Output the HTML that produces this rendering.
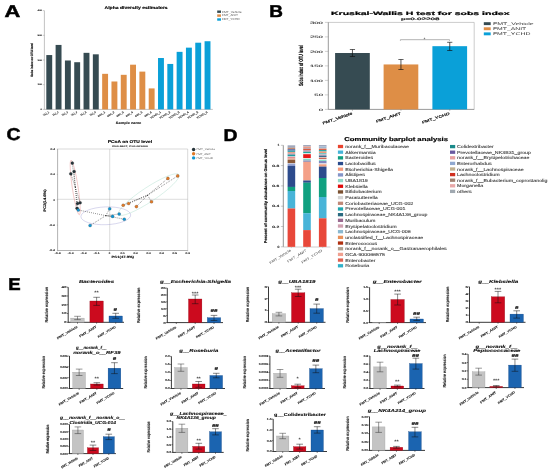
<!DOCTYPE html>
<html><head><meta charset="utf-8"><style>
html,body{margin:0;padding:0;background:#fff;}
svg{display:block;will-change:transform;}
text{font-family:"Liberation Sans", sans-serif;text-rendering:geometricPrecision;}
</style></head><body>
<svg width="550" height="471" viewBox="0 0 550 471" font-family='"Liberation Sans", sans-serif'>
<rect width="550" height="471" fill="#fff"/>
<text x="4.55" y="17.15" font-size="17.1" font-weight="bold" stroke="#000" stroke-width="0.500" textLength="15.80" lengthAdjust="spacingAndGlyphs">A</text>
<text x="269.25" y="17.05" font-size="17.1" font-weight="bold" stroke="#000" stroke-width="0.500" textLength="13.70" lengthAdjust="spacingAndGlyphs">B</text>
<text x="6.55" y="140.35" font-size="17.1" font-weight="bold" stroke="#000" stroke-width="0.500" textLength="14.00" lengthAdjust="spacingAndGlyphs">C</text>
<text x="223.55" y="140.95" font-size="17.1" font-weight="bold" stroke="#000" stroke-width="0.500" textLength="14.00" lengthAdjust="spacingAndGlyphs">D</text>
<text x="8.25" y="290.05" font-size="17.1" font-weight="bold" stroke="#000" stroke-width="0.500" textLength="12.40" lengthAdjust="spacingAndGlyphs">E</text>
<text x="104.50" y="8.50" font-size="4.1" font-weight="bold" stroke="#000" stroke-width="0.123" textLength="63.20" lengthAdjust="spacingAndGlyphs">Alpha diversity estimators</text>
<line x1="44.40" y1="10.70" x2="44.40" y2="109.40" stroke="#777" stroke-width="0.45"/>
<line x1="44.40" y1="109.40" x2="212.80" y2="109.40" stroke="#777" stroke-width="0.45"/>
<line x1="42.80" y1="109.40" x2="44.40" y2="109.40" stroke="#777" stroke-width="0.35"/>
<text x="42.20" y="110.15" font-size="2.1" text-anchor="end" fill="#333" stroke="#333" stroke-width="0.126" textLength="1.60" lengthAdjust="spacingAndGlyphs">0</text>
<line x1="42.80" y1="84.70" x2="44.40" y2="84.70" stroke="#777" stroke-width="0.35"/>
<text x="42.20" y="85.45" font-size="2.1" text-anchor="end" fill="#333" stroke="#333" stroke-width="0.126" textLength="4.80" lengthAdjust="spacingAndGlyphs">100</text>
<line x1="42.80" y1="60.00" x2="44.40" y2="60.00" stroke="#777" stroke-width="0.35"/>
<text x="42.20" y="60.75" font-size="2.1" text-anchor="end" fill="#333" stroke="#333" stroke-width="0.126" textLength="4.80" lengthAdjust="spacingAndGlyphs">200</text>
<line x1="42.80" y1="35.30" x2="44.40" y2="35.30" stroke="#777" stroke-width="0.35"/>
<text x="42.20" y="36.05" font-size="2.1" text-anchor="end" fill="#333" stroke="#333" stroke-width="0.126" textLength="4.80" lengthAdjust="spacingAndGlyphs">300</text>
<line x1="42.80" y1="10.60" x2="44.40" y2="10.60" stroke="#777" stroke-width="0.35"/>
<text x="42.20" y="11.35" font-size="2.1" text-anchor="end" fill="#333" stroke="#333" stroke-width="0.126" textLength="4.80" lengthAdjust="spacingAndGlyphs">400</text>
<rect x="46.30" y="55.06" width="5.90" height="54.34" fill="#364b52"/>
<text x="49.45" y="112.60" font-size="2.6" text-anchor="end" fill="#444" stroke="#444" stroke-width="0.156" textLength="6.60" lengthAdjust="spacingAndGlyphs" transform="rotate(-32 49.45 112.60)">VL1_1</text>
<rect x="55.61" y="44.93" width="5.90" height="64.47" fill="#364b52"/>
<text x="58.76" y="112.60" font-size="2.6" text-anchor="end" fill="#444" stroke="#444" stroke-width="0.156" textLength="6.60" lengthAdjust="spacingAndGlyphs" transform="rotate(-32 58.76 112.60)">VL1_2</text>
<rect x="64.92" y="60.49" width="5.90" height="48.91" fill="#364b52"/>
<text x="68.07" y="112.60" font-size="2.6" text-anchor="end" fill="#444" stroke="#444" stroke-width="0.156" textLength="6.60" lengthAdjust="spacingAndGlyphs" transform="rotate(-32 68.07 112.60)">VL1_3</text>
<rect x="74.23" y="62.22" width="5.90" height="47.18" fill="#364b52"/>
<text x="77.38" y="112.60" font-size="2.6" text-anchor="end" fill="#444" stroke="#444" stroke-width="0.156" textLength="6.60" lengthAdjust="spacingAndGlyphs" transform="rotate(-32 77.38 112.60)">VL1_4</text>
<rect x="83.54" y="52.84" width="5.90" height="56.56" fill="#364b52"/>
<text x="86.69" y="112.60" font-size="2.6" text-anchor="end" fill="#444" stroke="#444" stroke-width="0.156" textLength="6.60" lengthAdjust="spacingAndGlyphs" transform="rotate(-32 86.69 112.60)">VL1_5</text>
<rect x="92.85" y="54.32" width="5.90" height="55.08" fill="#364b52"/>
<text x="96.00" y="112.60" font-size="2.6" text-anchor="end" fill="#444" stroke="#444" stroke-width="0.156" textLength="6.60" lengthAdjust="spacingAndGlyphs" transform="rotate(-32 96.00 112.60)">VL1_6</text>
<rect x="102.16" y="73.83" width="5.90" height="35.57" fill="#de8e46"/>
<text x="105.31" y="112.60" font-size="2.6" text-anchor="end" fill="#444" stroke="#444" stroke-width="0.156" textLength="8.20" lengthAdjust="spacingAndGlyphs" transform="rotate(-32 105.31 112.60)">aan_1</text>
<rect x="111.47" y="81.49" width="5.90" height="27.91" fill="#de8e46"/>
<text x="114.62" y="112.60" font-size="2.6" text-anchor="end" fill="#444" stroke="#444" stroke-width="0.156" textLength="8.20" lengthAdjust="spacingAndGlyphs" transform="rotate(-32 114.62 112.60)">aan_2</text>
<rect x="120.78" y="74.82" width="5.90" height="34.58" fill="#de8e46"/>
<text x="123.93" y="112.60" font-size="2.6" text-anchor="end" fill="#444" stroke="#444" stroke-width="0.156" textLength="8.20" lengthAdjust="spacingAndGlyphs" transform="rotate(-32 123.93 112.60)">aan_3</text>
<rect x="130.09" y="64.69" width="5.90" height="44.71" fill="#de8e46"/>
<text x="133.24" y="112.60" font-size="2.6" text-anchor="end" fill="#444" stroke="#444" stroke-width="0.156" textLength="8.20" lengthAdjust="spacingAndGlyphs" transform="rotate(-32 133.24 112.60)">aan_4</text>
<rect x="139.40" y="71.61" width="5.90" height="37.79" fill="#de8e46"/>
<text x="142.55" y="112.60" font-size="2.6" text-anchor="end" fill="#444" stroke="#444" stroke-width="0.156" textLength="8.20" lengthAdjust="spacingAndGlyphs" transform="rotate(-32 142.55 112.60)">aan_5</text>
<rect x="148.71" y="88.41" width="5.90" height="21.00" fill="#de8e46"/>
<text x="151.86" y="112.60" font-size="2.6" text-anchor="end" fill="#444" stroke="#444" stroke-width="0.156" textLength="8.20" lengthAdjust="spacingAndGlyphs" transform="rotate(-32 151.86 112.60)">aan_6</text>
<rect x="158.02" y="58.02" width="5.90" height="51.38" fill="#0aa0d8"/>
<text x="161.17" y="112.60" font-size="2.6" text-anchor="end" fill="#444" stroke="#444" stroke-width="0.156" textLength="12.20" lengthAdjust="spacingAndGlyphs" transform="rotate(-32 161.17 112.60)">YCHD_1</text>
<rect x="167.33" y="63.95" width="5.90" height="45.45" fill="#0aa0d8"/>
<text x="170.48" y="112.60" font-size="2.6" text-anchor="end" fill="#444" stroke="#444" stroke-width="0.156" textLength="12.20" lengthAdjust="spacingAndGlyphs" transform="rotate(-32 170.48 112.60)">YCHD_2</text>
<rect x="176.64" y="51.85" width="5.90" height="57.55" fill="#0aa0d8"/>
<text x="179.79" y="112.60" font-size="2.6" text-anchor="end" fill="#444" stroke="#444" stroke-width="0.156" textLength="12.20" lengthAdjust="spacingAndGlyphs" transform="rotate(-32 179.79 112.60)">YCHD_3</text>
<rect x="185.95" y="47.65" width="5.90" height="61.75" fill="#0aa0d8"/>
<text x="189.10" y="112.60" font-size="2.6" text-anchor="end" fill="#444" stroke="#444" stroke-width="0.156" textLength="12.20" lengthAdjust="spacingAndGlyphs" transform="rotate(-32 189.10 112.60)">YCHD_4</text>
<rect x="195.26" y="42.71" width="5.90" height="66.69" fill="#0aa0d8"/>
<text x="198.41" y="112.60" font-size="2.6" text-anchor="end" fill="#444" stroke="#444" stroke-width="0.156" textLength="12.20" lengthAdjust="spacingAndGlyphs" transform="rotate(-32 198.41 112.60)">YCHD_5</text>
<rect x="204.57" y="41.23" width="5.90" height="68.17" fill="#0aa0d8"/>
<text x="207.72" y="112.60" font-size="2.6" text-anchor="end" fill="#444" stroke="#444" stroke-width="0.156" textLength="12.20" lengthAdjust="spacingAndGlyphs" transform="rotate(-32 207.72 112.60)">YCHD_6</text>
<text x="32.90" y="59.90" font-size="3.3" font-weight="bold" text-anchor="middle" stroke="#000" stroke-width="0.150" textLength="33.80" lengthAdjust="spacingAndGlyphs" transform="rotate(-90 32.90 59.90)">Sobs index on OTU level</text>
<text x="115.80" y="123.70" font-size="3.4" font-weight="bold" fill="#222" stroke="#222" stroke-width="0.102" textLength="25.50" lengthAdjust="spacingAndGlyphs">Sample name</text>
<rect x="217.20" y="10.50" width="3.80" height="2.40" fill="#364b52"/>
<text x="221.90" y="12.50" font-size="2.9" fill="#555" textLength="19.70" lengthAdjust="spacingAndGlyphs">FMT_Vehicle</text>
<rect x="217.20" y="14.40" width="3.80" height="2.40" fill="#de8e46"/>
<text x="221.90" y="16.40" font-size="2.9" fill="#555" textLength="16.00" lengthAdjust="spacingAndGlyphs">FMT_ANIT</text>
<rect x="217.20" y="18.30" width="3.80" height="2.40" fill="#0aa0d8"/>
<text x="221.90" y="20.30" font-size="2.9" fill="#555" textLength="17.70" lengthAdjust="spacingAndGlyphs">FMT_YCHD</text>
<text x="331.00" y="14.60" font-size="4.9" font-weight="bold" stroke="#000" stroke-width="0.200" textLength="178.50" lengthAdjust="spacingAndGlyphs">Kruskal-Wallis H test for sobs index</text>
<text x="400.90" y="19.50" font-size="3.3" fill="#222" stroke="#222" stroke-width="0.198" textLength="38.60" lengthAdjust="spacingAndGlyphs">p=0.02208</text>
<line x1="328.30" y1="22.40" x2="474.20" y2="22.40" stroke="#999" stroke-width="0.5"/>
<line x1="474.20" y1="22.40" x2="474.20" y2="109.40" stroke="#999" stroke-width="0.5"/>
<line x1="328.30" y1="22.40" x2="328.30" y2="109.40" stroke="#555" stroke-width="0.6"/>
<line x1="328.30" y1="109.40" x2="474.20" y2="109.40" stroke="#555" stroke-width="0.6"/>
<line x1="324.90" y1="109.40" x2="328.30" y2="109.40" stroke="#888" stroke-width="0.4"/>
<text x="323.00" y="110.55" font-size="3.3" text-anchor="end" fill="#333" stroke="#333" stroke-width="0.080" textLength="4.35" lengthAdjust="spacingAndGlyphs">0</text>
<line x1="324.90" y1="94.90" x2="328.30" y2="94.90" stroke="#888" stroke-width="0.4"/>
<text x="323.00" y="96.05" font-size="3.3" text-anchor="end" fill="#333" stroke="#333" stroke-width="0.080" textLength="8.70" lengthAdjust="spacingAndGlyphs">50</text>
<line x1="324.90" y1="80.40" x2="328.30" y2="80.40" stroke="#888" stroke-width="0.4"/>
<text x="323.00" y="81.55" font-size="3.3" text-anchor="end" fill="#333" stroke="#333" stroke-width="0.080" textLength="13.05" lengthAdjust="spacingAndGlyphs">100</text>
<line x1="324.90" y1="65.90" x2="328.30" y2="65.90" stroke="#888" stroke-width="0.4"/>
<text x="323.00" y="67.05" font-size="3.3" text-anchor="end" fill="#333" stroke="#333" stroke-width="0.080" textLength="13.05" lengthAdjust="spacingAndGlyphs">150</text>
<line x1="324.90" y1="51.40" x2="328.30" y2="51.40" stroke="#888" stroke-width="0.4"/>
<text x="323.00" y="52.55" font-size="3.3" text-anchor="end" fill="#333" stroke="#333" stroke-width="0.080" textLength="13.05" lengthAdjust="spacingAndGlyphs">200</text>
<line x1="324.90" y1="36.90" x2="328.30" y2="36.90" stroke="#888" stroke-width="0.4"/>
<text x="323.00" y="38.05" font-size="3.3" text-anchor="end" fill="#333" stroke="#333" stroke-width="0.080" textLength="13.05" lengthAdjust="spacingAndGlyphs">250</text>
<line x1="324.90" y1="22.40" x2="328.30" y2="22.40" stroke="#888" stroke-width="0.4"/>
<text x="323.00" y="23.55" font-size="3.3" text-anchor="end" fill="#333" stroke="#333" stroke-width="0.080" textLength="13.05" lengthAdjust="spacingAndGlyphs">300</text>
<rect x="335.10" y="53.00" width="34.70" height="56.40" fill="#364b52"/>
<line x1="352.45" y1="49.50" x2="352.45" y2="56.50" stroke="#111" stroke-width="0.7"/>
<line x1="349.85" y1="49.50" x2="355.05" y2="49.50" stroke="#111" stroke-width="0.65"/>
<line x1="349.85" y1="56.50" x2="355.05" y2="56.50" stroke="#111" stroke-width="0.65"/>
<line x1="352.45" y1="109.40" x2="352.45" y2="110.80" stroke="#555" stroke-width="0.4"/>
<text x="352.55" y="114.40" font-size="3.6" text-anchor="end" fill="#222" stroke="#222" stroke-width="0.216" textLength="31.30" lengthAdjust="spacingAndGlyphs" transform="rotate(-19 352.55 114.40)">FMT_Vehicle</text>
<rect x="383.60" y="64.45" width="34.70" height="44.95" fill="#de8e46"/>
<line x1="400.95" y1="59.50" x2="400.95" y2="69.50" stroke="#111" stroke-width="0.7"/>
<line x1="398.35" y1="59.50" x2="403.55" y2="59.50" stroke="#111" stroke-width="0.65"/>
<line x1="398.35" y1="69.50" x2="403.55" y2="69.50" stroke="#111" stroke-width="0.65"/>
<line x1="400.95" y1="109.40" x2="400.95" y2="110.80" stroke="#555" stroke-width="0.4"/>
<text x="401.05" y="114.40" font-size="3.6" text-anchor="end" fill="#222" stroke="#222" stroke-width="0.216" textLength="26.00" lengthAdjust="spacingAndGlyphs" transform="rotate(-19 401.05 114.40)">FMT_ANIT</text>
<rect x="432.40" y="46.18" width="34.70" height="63.22" fill="#0aa0d8"/>
<line x1="449.75" y1="42.30" x2="449.75" y2="50.50" stroke="#111" stroke-width="0.7"/>
<line x1="447.15" y1="42.30" x2="452.35" y2="42.30" stroke="#111" stroke-width="0.65"/>
<line x1="447.15" y1="50.50" x2="452.35" y2="50.50" stroke="#111" stroke-width="0.65"/>
<line x1="449.75" y1="109.40" x2="449.75" y2="110.80" stroke="#555" stroke-width="0.4"/>
<text x="449.85" y="114.40" font-size="3.6" text-anchor="end" fill="#222" stroke="#222" stroke-width="0.216" textLength="29.00" lengthAdjust="spacingAndGlyphs" transform="rotate(-19 449.85 114.40)">FMT_YCHD</text>
<line x1="400.40" y1="39.70" x2="449.50" y2="39.70" stroke="#555" stroke-width="0.45"/>
<line x1="400.40" y1="39.70" x2="400.40" y2="40.90" stroke="#555" stroke-width="0.4"/>
<line x1="449.50" y1="39.70" x2="449.50" y2="40.90" stroke="#555" stroke-width="0.4"/>
<text x="424.50" y="40.90" font-size="5.0" text-anchor="middle" fill="#444">*</text>
<text x="303.00" y="65.70" font-size="6.0" font-weight="bold" text-anchor="middle" stroke="#000" stroke-width="0.180" textLength="40.80" lengthAdjust="spacingAndGlyphs" transform="rotate(-90 303.00 65.70)">Sobs index of OTU level</text>
<rect x="483.80" y="22.20" width="6.90" height="2.90" fill="#364b52"/>
<text x="492.90" y="25.10" font-size="3.9" fill="#333" textLength="40.80" lengthAdjust="spacingAndGlyphs">FMT_Vehicle</text>
<rect x="483.80" y="27.30" width="6.90" height="2.90" fill="#de8e46"/>
<text x="492.90" y="30.20" font-size="3.9" fill="#333" textLength="33.40" lengthAdjust="spacingAndGlyphs">FMT_ANIT</text>
<rect x="483.80" y="32.40" width="6.90" height="2.90" fill="#0aa0d8"/>
<text x="492.90" y="35.30" font-size="3.9" fill="#333" textLength="37.50" lengthAdjust="spacingAndGlyphs">FMT_YCHD</text>
<line x1="57.60" y1="149.00" x2="187.70" y2="149.00" stroke="#aaa" stroke-width="0.45"/>
<line x1="187.70" y1="149.00" x2="187.70" y2="250.50" stroke="#aaa" stroke-width="0.45"/>
<line x1="57.60" y1="149.00" x2="57.60" y2="250.50" stroke="#666" stroke-width="0.5"/>
<line x1="57.60" y1="250.50" x2="187.70" y2="250.50" stroke="#666" stroke-width="0.5"/>
<line x1="109.70" y1="149.00" x2="109.70" y2="250.50" stroke="#aaa" stroke-width="0.4"/>
<line x1="57.60" y1="199.30" x2="187.70" y2="199.30" stroke="#aaa" stroke-width="0.4"/>
<line x1="57.60" y1="250.50" x2="57.60" y2="251.30" stroke="#666" stroke-width="0.3"/>
<text x="57.60" y="254.00" font-size="2.4" text-anchor="middle" fill="#333" stroke="#333" stroke-width="0.144" textLength="6.00" lengthAdjust="spacingAndGlyphs">-0.4</text>
<line x1="70.61" y1="250.50" x2="70.61" y2="251.30" stroke="#666" stroke-width="0.3"/>
<text x="70.61" y="254.00" font-size="2.4" text-anchor="middle" fill="#333" stroke="#333" stroke-width="0.144" textLength="6.00" lengthAdjust="spacingAndGlyphs">-0.3</text>
<line x1="83.62" y1="250.50" x2="83.62" y2="251.30" stroke="#666" stroke-width="0.3"/>
<text x="83.62" y="254.00" font-size="2.4" text-anchor="middle" fill="#333" stroke="#333" stroke-width="0.144" textLength="6.00" lengthAdjust="spacingAndGlyphs">-0.2</text>
<line x1="96.63" y1="250.50" x2="96.63" y2="251.30" stroke="#666" stroke-width="0.3"/>
<text x="96.63" y="254.00" font-size="2.4" text-anchor="middle" fill="#333" stroke="#333" stroke-width="0.144" textLength="6.00" lengthAdjust="spacingAndGlyphs">-0.1</text>
<line x1="109.64" y1="250.50" x2="109.64" y2="251.30" stroke="#666" stroke-width="0.3"/>
<text x="109.64" y="254.00" font-size="2.4" text-anchor="middle" fill="#333" stroke="#333" stroke-width="0.144" textLength="1.50" lengthAdjust="spacingAndGlyphs">0</text>
<line x1="122.65" y1="250.50" x2="122.65" y2="251.30" stroke="#666" stroke-width="0.3"/>
<text x="122.65" y="254.00" font-size="2.4" text-anchor="middle" fill="#333" stroke="#333" stroke-width="0.144" textLength="4.50" lengthAdjust="spacingAndGlyphs">0.1</text>
<line x1="135.66" y1="250.50" x2="135.66" y2="251.30" stroke="#666" stroke-width="0.3"/>
<text x="135.66" y="254.00" font-size="2.4" text-anchor="middle" fill="#333" stroke="#333" stroke-width="0.144" textLength="4.50" lengthAdjust="spacingAndGlyphs">0.2</text>
<line x1="148.67" y1="250.50" x2="148.67" y2="251.30" stroke="#666" stroke-width="0.3"/>
<text x="148.67" y="254.00" font-size="2.4" text-anchor="middle" fill="#333" stroke="#333" stroke-width="0.144" textLength="4.50" lengthAdjust="spacingAndGlyphs">0.3</text>
<line x1="161.68" y1="250.50" x2="161.68" y2="251.30" stroke="#666" stroke-width="0.3"/>
<text x="161.68" y="254.00" font-size="2.4" text-anchor="middle" fill="#333" stroke="#333" stroke-width="0.144" textLength="4.50" lengthAdjust="spacingAndGlyphs">0.4</text>
<line x1="174.69" y1="250.50" x2="174.69" y2="251.30" stroke="#666" stroke-width="0.3"/>
<text x="174.69" y="254.00" font-size="2.4" text-anchor="middle" fill="#333" stroke="#333" stroke-width="0.144" textLength="4.50" lengthAdjust="spacingAndGlyphs">0.5</text>
<line x1="187.70" y1="250.50" x2="187.70" y2="251.30" stroke="#666" stroke-width="0.3"/>
<text x="187.70" y="254.00" font-size="2.4" text-anchor="middle" fill="#333" stroke="#333" stroke-width="0.144" textLength="4.50" lengthAdjust="spacingAndGlyphs">0.6</text>
<line x1="56.80" y1="149.00" x2="57.60" y2="149.00" stroke="#666" stroke-width="0.3"/>
<text x="55.00" y="149.80" font-size="2.4" text-anchor="end" fill="#333" stroke="#333" stroke-width="0.144" textLength="4.50" lengthAdjust="spacingAndGlyphs">0.4</text>
<line x1="56.80" y1="174.38" x2="57.60" y2="174.38" stroke="#666" stroke-width="0.3"/>
<text x="55.00" y="175.18" font-size="2.4" text-anchor="end" fill="#333" stroke="#333" stroke-width="0.144" textLength="4.50" lengthAdjust="spacingAndGlyphs">0.2</text>
<line x1="56.80" y1="199.75" x2="57.60" y2="199.75" stroke="#666" stroke-width="0.3"/>
<text x="55.00" y="200.55" font-size="2.4" text-anchor="end" fill="#333" stroke="#333" stroke-width="0.144" textLength="1.50" lengthAdjust="spacingAndGlyphs">0</text>
<line x1="56.80" y1="225.12" x2="57.60" y2="225.12" stroke="#666" stroke-width="0.3"/>
<text x="55.00" y="225.93" font-size="2.4" text-anchor="end" fill="#333" stroke="#333" stroke-width="0.144" textLength="6.00" lengthAdjust="spacingAndGlyphs">-0.2</text>
<line x1="56.80" y1="250.50" x2="57.60" y2="250.50" stroke="#666" stroke-width="0.3"/>
<text x="55.00" y="251.30" font-size="2.4" text-anchor="end" fill="#333" stroke="#333" stroke-width="0.144" textLength="6.00" lengthAdjust="spacingAndGlyphs">-0.4</text>
<text x="107.80" y="142.70" font-size="4.2" font-weight="bold" stroke="#000" stroke-width="0.126" textLength="44.30" lengthAdjust="spacingAndGlyphs">PCoA on OTU level</text>
<text x="112.30" y="146.60" font-size="2.2" fill="#444" stroke="#444" stroke-width="0.132" textLength="35.60" lengthAdjust="spacingAndGlyphs">R=0.8407, P=0.001000</text>
<text x="111.50" y="257.70" font-size="3.1" font-weight="bold" stroke="#000" stroke-width="0.093" textLength="22.50" lengthAdjust="spacingAndGlyphs">PC1(47.9%)</text>
<text x="45.90" y="200.60" font-size="3.7" font-weight="bold" text-anchor="middle" stroke="#000" stroke-width="0.111" textLength="22.50" lengthAdjust="spacingAndGlyphs" transform="rotate(-90 45.90 200.60)">PC2(14.6%)</text>
<ellipse cx="75.20" cy="187.50" rx="27.60" ry="2.90" transform="rotate(81.4 75.20 187.50)" fill="none" stroke="#e07070" stroke-width="0.35"/>
<ellipse cx="148.70" cy="194.60" rx="36.20" ry="7.20" transform="rotate(-33.5 148.70 194.60)" fill="none" stroke="#a0d8c4" stroke-width="0.35"/>
<ellipse cx="105.80" cy="215.80" rx="24.90" ry="8.90" transform="rotate(-2 105.80 215.80)" fill="none" stroke="#a09ed4" stroke-width="0.4"/>
<line x1="75.32" y1="187.13" x2="72.30" y2="163.10" stroke="#222" stroke-width="0.6" stroke-dasharray="0.8 1.2"/>
<line x1="75.32" y1="187.13" x2="74.10" y2="171.50" stroke="#222" stroke-width="0.6" stroke-dasharray="0.8 1.2"/>
<line x1="75.32" y1="187.13" x2="70.80" y2="173.80" stroke="#222" stroke-width="0.6" stroke-dasharray="0.8 1.2"/>
<line x1="75.32" y1="187.13" x2="77.50" y2="203.50" stroke="#222" stroke-width="0.6" stroke-dasharray="0.8 1.2"/>
<line x1="75.32" y1="187.13" x2="80.10" y2="202.70" stroke="#222" stroke-width="0.6" stroke-dasharray="0.8 1.2"/>
<line x1="75.32" y1="187.13" x2="77.10" y2="208.20" stroke="#222" stroke-width="0.6" stroke-dasharray="0.8 1.2"/>
<line x1="147.55" y1="195.23" x2="123.20" y2="205.20" stroke="#222" stroke-width="0.6" stroke-dasharray="0.8 1.2"/>
<line x1="147.55" y1="195.23" x2="128.60" y2="203.50" stroke="#222" stroke-width="0.6" stroke-dasharray="0.8 1.2"/>
<line x1="147.55" y1="195.23" x2="136.40" y2="206.60" stroke="#222" stroke-width="0.6" stroke-dasharray="0.8 1.2"/>
<line x1="147.55" y1="195.23" x2="151.50" y2="201.80" stroke="#222" stroke-width="0.6" stroke-dasharray="0.8 1.2"/>
<line x1="147.55" y1="195.23" x2="167.90" y2="178.40" stroke="#222" stroke-width="0.6" stroke-dasharray="0.8 1.2"/>
<line x1="147.55" y1="195.23" x2="177.70" y2="175.90" stroke="#222" stroke-width="0.6" stroke-dasharray="0.8 1.2"/>
<line x1="105.70" y1="215.65" x2="109.70" y2="208.80" stroke="#222" stroke-width="0.6" stroke-dasharray="0.8 1.2"/>
<line x1="105.70" y1="215.65" x2="119.20" y2="214.00" stroke="#222" stroke-width="0.6" stroke-dasharray="0.8 1.2"/>
<line x1="105.70" y1="215.65" x2="112.60" y2="216.40" stroke="#222" stroke-width="0.6" stroke-dasharray="0.8 1.2"/>
<line x1="105.70" y1="215.65" x2="124.30" y2="219.20" stroke="#222" stroke-width="0.6" stroke-dasharray="0.8 1.2"/>
<line x1="105.70" y1="215.65" x2="90.10" y2="225.50" stroke="#222" stroke-width="0.6" stroke-dasharray="0.8 1.2"/>
<line x1="105.70" y1="215.65" x2="78.30" y2="210.00" stroke="#222" stroke-width="0.6" stroke-dasharray="0.8 1.2"/>
<circle cx="72.30" cy="163.10" r="1.55" fill="#27343a" stroke="#333" stroke-width="0.2"/>
<circle cx="74.10" cy="171.50" r="1.55" fill="#27343a" stroke="#333" stroke-width="0.2"/>
<circle cx="70.80" cy="173.80" r="1.55" fill="#27343a" stroke="#333" stroke-width="0.2"/>
<circle cx="77.50" cy="203.50" r="1.55" fill="#27343a" stroke="#333" stroke-width="0.2"/>
<circle cx="80.10" cy="202.70" r="1.55" fill="#27343a" stroke="#333" stroke-width="0.2"/>
<circle cx="77.10" cy="208.20" r="1.55" fill="#27343a" stroke="#333" stroke-width="0.2"/>
<circle cx="123.20" cy="205.20" r="1.55" fill="#e07a28" stroke="#333" stroke-width="0.2"/>
<circle cx="128.60" cy="203.50" r="1.55" fill="#e07a28" stroke="#333" stroke-width="0.2"/>
<circle cx="136.40" cy="206.60" r="1.55" fill="#e07a28" stroke="#333" stroke-width="0.2"/>
<circle cx="151.50" cy="201.80" r="1.55" fill="#e07a28" stroke="#333" stroke-width="0.2"/>
<circle cx="167.90" cy="178.40" r="1.55" fill="#e07a28" stroke="#333" stroke-width="0.2"/>
<circle cx="177.70" cy="175.90" r="1.55" fill="#e07a28" stroke="#333" stroke-width="0.2"/>
<circle cx="109.70" cy="208.80" r="1.55" fill="#1296d2" stroke="#333" stroke-width="0.2"/>
<circle cx="119.20" cy="214.00" r="1.55" fill="#1296d2" stroke="#333" stroke-width="0.2"/>
<circle cx="112.60" cy="216.40" r="1.55" fill="#1296d2" stroke="#333" stroke-width="0.2"/>
<circle cx="124.30" cy="219.20" r="1.55" fill="#1296d2" stroke="#333" stroke-width="0.2"/>
<circle cx="90.10" cy="225.50" r="1.55" fill="#1296d2" stroke="#333" stroke-width="0.2"/>
<circle cx="78.30" cy="210.00" r="1.55" fill="#1296d2" stroke="#333" stroke-width="0.2"/>
<circle cx="193.60" cy="149.50" r="1.7" fill="#27343a"/>
<text x="196.40" y="150.30" font-size="2.4" fill="#555" textLength="18.60" lengthAdjust="spacingAndGlyphs">FMT_Vehicle</text>
<circle cx="193.60" cy="153.70" r="1.7" fill="#e07a28"/>
<text x="196.40" y="154.50" font-size="2.4" fill="#555" textLength="14.50" lengthAdjust="spacingAndGlyphs">FMT_ANIT</text>
<circle cx="193.60" cy="157.90" r="1.7" fill="#1296d2"/>
<text x="196.40" y="158.70" font-size="2.4" fill="#555" textLength="16.50" lengthAdjust="spacingAndGlyphs">FMT_YCHD</text>
<text x="344.20" y="140.90" font-size="5.6" font-weight="bold" stroke="#000" stroke-width="0.168" textLength="103.80" lengthAdjust="spacingAndGlyphs">Community barplot analysis</text>
<line x1="283.30" y1="145.30" x2="283.30" y2="246.80" stroke="#888" stroke-width="0.9"/>
<line x1="283.30" y1="247.00" x2="330.50" y2="247.00" stroke="#999" stroke-width="0.5"/>
<line x1="280.90" y1="246.80" x2="283.30" y2="246.80" stroke="#777" stroke-width="0.4"/>
<text x="279.30" y="247.95" font-size="3.1" text-anchor="end" fill="#333" stroke="#333" stroke-width="0.186" textLength="1.90" lengthAdjust="spacingAndGlyphs">0</text>
<line x1="280.90" y1="226.50" x2="283.30" y2="226.50" stroke="#777" stroke-width="0.4"/>
<text x="279.30" y="227.65" font-size="3.1" text-anchor="end" fill="#333" stroke="#333" stroke-width="0.186" textLength="7.00" lengthAdjust="spacingAndGlyphs">0.2</text>
<line x1="280.90" y1="206.20" x2="283.30" y2="206.20" stroke="#777" stroke-width="0.4"/>
<text x="279.30" y="207.35" font-size="3.1" text-anchor="end" fill="#333" stroke="#333" stroke-width="0.186" textLength="7.00" lengthAdjust="spacingAndGlyphs">0.4</text>
<line x1="280.90" y1="185.90" x2="283.30" y2="185.90" stroke="#777" stroke-width="0.4"/>
<text x="279.30" y="187.05" font-size="3.1" text-anchor="end" fill="#333" stroke="#333" stroke-width="0.186" textLength="7.00" lengthAdjust="spacingAndGlyphs">0.6</text>
<line x1="280.90" y1="165.60" x2="283.30" y2="165.60" stroke="#777" stroke-width="0.4"/>
<text x="279.30" y="166.75" font-size="3.1" text-anchor="end" fill="#333" stroke="#333" stroke-width="0.186" textLength="7.00" lengthAdjust="spacingAndGlyphs">0.8</text>
<line x1="280.90" y1="145.30" x2="283.30" y2="145.30" stroke="#777" stroke-width="0.4"/>
<text x="279.30" y="146.45" font-size="3.1" text-anchor="end" fill="#333" stroke="#333" stroke-width="0.186" textLength="1.90" lengthAdjust="spacingAndGlyphs">1</text>
<text x="266.50" y="196.00" font-size="4.1" font-weight="bold" text-anchor="middle" stroke="#000" stroke-width="0.150" textLength="94.30" lengthAdjust="spacingAndGlyphs" transform="rotate(-90 266.50 196.00)">Percent of community abundance on Genus level</text>
<rect x="287.60" y="145.30" width="7.60" height="2.55" fill="#a0a8bc"/>
<rect x="287.60" y="147.80" width="7.60" height="1.45" fill="#c48a70"/>
<rect x="287.60" y="149.20" width="7.60" height="1.45" fill="#5060a0"/>
<rect x="287.60" y="150.60" width="7.60" height="1.45" fill="#40a8b0"/>
<rect x="287.60" y="152.00" width="7.60" height="1.65" fill="#e8a088"/>
<rect x="287.60" y="153.60" width="7.60" height="1.15" fill="#b090b0"/>
<rect x="287.60" y="154.70" width="7.60" height="1.45" fill="#1f9fa0"/>
<rect x="287.60" y="156.10" width="7.60" height="1.15" fill="#c0c8d0"/>
<rect x="287.60" y="157.20" width="7.60" height="1.45" fill="#e07878"/>
<rect x="287.60" y="158.60" width="7.60" height="1.15" fill="#f0c0a8"/>
<rect x="287.60" y="159.70" width="7.60" height="3.35" fill="#8a5a3a"/>
<rect x="287.60" y="163.00" width="7.60" height="1.15" fill="#c8c8d8"/>
<rect x="287.60" y="164.10" width="7.60" height="1.95" fill="#8a9acc"/>
<rect x="287.60" y="166.00" width="7.60" height="20.95" fill="#2d4b8c"/>
<rect x="287.60" y="186.90" width="7.60" height="4.15" fill="#10a080"/>
<rect x="287.60" y="191.00" width="7.60" height="17.55" fill="#48b4d8"/>
<rect x="287.60" y="208.50" width="7.60" height="38.35" fill="#e8483a"/>
<rect x="303.20" y="145.00" width="7.60" height="1.55" fill="#a0a8bc"/>
<rect x="303.20" y="146.50" width="7.60" height="1.55" fill="#e89a88"/>
<rect x="303.20" y="148.00" width="7.60" height="0.85" fill="#b0b0c0"/>
<rect x="303.20" y="148.80" width="7.60" height="1.25" fill="#d85a40"/>
<rect x="303.20" y="150.00" width="7.60" height="1.85" fill="#c8a0b0"/>
<rect x="303.20" y="151.80" width="7.60" height="1.55" fill="#20a8a0"/>
<rect x="303.20" y="153.30" width="7.60" height="0.95" fill="#e8f0f0"/>
<rect x="303.20" y="154.20" width="7.60" height="3.85" fill="#e81818"/>
<rect x="303.20" y="158.00" width="7.60" height="0.95" fill="#f0e8e8"/>
<rect x="303.20" y="158.90" width="7.60" height="1.55" fill="#80dcc8"/>
<rect x="303.20" y="160.40" width="7.60" height="1.55" fill="#9494bc"/>
<rect x="303.20" y="161.90" width="7.60" height="18.65" fill="#f4a088"/>
<rect x="303.20" y="180.50" width="7.60" height="2.25" fill="#2d4b8c"/>
<rect x="303.20" y="182.70" width="7.60" height="30.55" fill="#10a080"/>
<rect x="303.20" y="213.20" width="7.60" height="16.95" fill="#48b4d8"/>
<rect x="303.20" y="230.10" width="7.60" height="16.75" fill="#e8483a"/>
<rect x="318.90" y="145.00" width="7.60" height="1.55" fill="#a0a8bc"/>
<rect x="318.90" y="146.50" width="7.60" height="1.55" fill="#a0b8d0"/>
<rect x="318.90" y="148.00" width="7.60" height="0.85" fill="#d0c0c0"/>
<rect x="318.90" y="148.80" width="7.60" height="1.25" fill="#d86048"/>
<rect x="318.90" y="150.00" width="7.60" height="1.55" fill="#30a8a8"/>
<rect x="318.90" y="151.50" width="7.60" height="1.55" fill="#f09878"/>
<rect x="318.90" y="153.00" width="7.60" height="1.55" fill="#70c8c8"/>
<rect x="318.90" y="154.50" width="7.60" height="1.25" fill="#d0a0b8"/>
<rect x="318.90" y="155.70" width="7.60" height="1.25" fill="#1a5a80"/>
<rect x="318.90" y="156.90" width="7.60" height="0.85" fill="#e0e8f0"/>
<rect x="318.90" y="157.70" width="7.60" height="1.25" fill="#c05040"/>
<rect x="318.90" y="158.90" width="7.60" height="0.95" fill="#f0e8e8"/>
<rect x="318.90" y="159.80" width="7.60" height="1.25" fill="#88dcc8"/>
<rect x="318.90" y="161.00" width="7.60" height="2.45" fill="#8088c0"/>
<rect x="318.90" y="163.40" width="7.60" height="0.95" fill="#e8e0e8"/>
<rect x="318.90" y="164.30" width="7.60" height="2.35" fill="#f0a080"/>
<rect x="318.90" y="166.60" width="7.60" height="11.45" fill="#2d4b8c"/>
<rect x="318.90" y="178.00" width="7.60" height="19.05" fill="#10a080"/>
<rect x="318.90" y="197.00" width="7.60" height="21.35" fill="#48b4d8"/>
<rect x="318.90" y="218.30" width="7.60" height="28.55" fill="#e8483a"/>
<line x1="291.40" y1="247.00" x2="291.40" y2="248.10" stroke="#999" stroke-width="0.35"/>
<text x="291.40" y="251.00" font-size="3.4" text-anchor="end" fill="#444" textLength="25.00" lengthAdjust="spacingAndGlyphs" transform="rotate(-32 291.40 251.00)">FMT_Vehicle</text>
<line x1="307.00" y1="247.00" x2="307.00" y2="248.10" stroke="#999" stroke-width="0.35"/>
<text x="307.00" y="251.00" font-size="3.4" text-anchor="end" fill="#444" textLength="22.40" lengthAdjust="spacingAndGlyphs" transform="rotate(-32 307.00 251.00)">FMT_ANIT</text>
<line x1="322.70" y1="247.00" x2="322.70" y2="248.10" stroke="#999" stroke-width="0.35"/>
<text x="322.70" y="251.00" font-size="3.4" text-anchor="end" fill="#444" textLength="24.00" lengthAdjust="spacingAndGlyphs" transform="rotate(-32 322.70 251.00)">FMT_YCHD</text>
<rect x="337.90" y="144.85" width="5.20" height="3.30" fill="#e8432e"/>
<text x="345.20" y="148.00" font-size="4.3" fill="#444" stroke="#444" stroke-width="0.120" textLength="63.70" lengthAdjust="spacingAndGlyphs">norank_f__Muribaculaceae</text>
<rect x="337.90" y="150.53" width="5.20" height="3.30" fill="#45b4d8"/>
<text x="345.20" y="153.68" font-size="4.3" fill="#444" stroke="#444" stroke-width="0.120" textLength="30.52" lengthAdjust="spacingAndGlyphs">Akkermansia</text>
<rect x="337.90" y="156.21" width="5.20" height="3.30" fill="#0f9e80"/>
<text x="345.20" y="159.36" font-size="4.3" fill="#444" stroke="#444" stroke-width="0.120" textLength="27.88" lengthAdjust="spacingAndGlyphs">Bacteroides</text>
<rect x="337.90" y="161.89" width="5.20" height="3.30" fill="#2a4b8d"/>
<text x="345.20" y="165.04" font-size="4.3" fill="#444" stroke="#444" stroke-width="0.120" textLength="30.53" lengthAdjust="spacingAndGlyphs">Lactobacillus</text>
<rect x="337.90" y="167.57" width="5.20" height="3.30" fill="#f59a7c"/>
<text x="345.20" y="170.72" font-size="4.3" fill="#444" stroke="#444" stroke-width="0.120" textLength="47.84" lengthAdjust="spacingAndGlyphs">Escherichia-Shigella</text>
<rect x="337.90" y="173.25" width="5.20" height="3.30" fill="#8494c8"/>
<text x="345.20" y="176.40" font-size="4.3" fill="#444" stroke="#444" stroke-width="0.120" textLength="19.66" lengthAdjust="spacingAndGlyphs">Alistipes</text>
<rect x="337.90" y="178.93" width="5.20" height="3.30" fill="#90d8c8"/>
<text x="345.20" y="182.08" font-size="4.3" fill="#444" stroke="#444" stroke-width="0.120" textLength="22.60" lengthAdjust="spacingAndGlyphs">UBA1819</text>
<rect x="337.90" y="184.61" width="5.20" height="3.30" fill="#e00a0a"/>
<text x="345.20" y="187.76" font-size="4.3" fill="#444" stroke="#444" stroke-width="0.120" textLength="22.60" lengthAdjust="spacingAndGlyphs">Klebsiella</text>
<rect x="337.90" y="190.29" width="5.20" height="3.30" fill="#7a5030"/>
<text x="345.20" y="193.44" font-size="4.3" fill="#444" stroke="#444" stroke-width="0.120" textLength="36.39" lengthAdjust="spacingAndGlyphs">Bifidobacterium</text>
<rect x="337.90" y="195.97" width="5.20" height="3.30" fill="#d4d4d4"/>
<text x="345.20" y="199.12" font-size="4.3" fill="#444" stroke="#444" stroke-width="0.120" textLength="32.58" lengthAdjust="spacingAndGlyphs">Parasutterella</text>
<rect x="337.90" y="201.65" width="5.20" height="3.30" fill="#c08878"/>
<text x="345.20" y="204.80" font-size="4.3" fill="#444" stroke="#444" stroke-width="0.120" textLength="68.09" lengthAdjust="spacingAndGlyphs">Coriobacteriaceae_UCG-002</text>
<rect x="337.90" y="207.33" width="5.20" height="3.30" fill="#20a8b0"/>
<text x="345.20" y="210.48" font-size="4.3" fill="#444" stroke="#444" stroke-width="0.120" textLength="60.17" lengthAdjust="spacingAndGlyphs">Prevotellaceae_UCG-001</text>
<rect x="337.90" y="213.01" width="5.20" height="3.30" fill="#2a6a80"/>
<text x="345.20" y="216.16" font-size="4.3" fill="#444" stroke="#444" stroke-width="0.120" textLength="82.20" lengthAdjust="spacingAndGlyphs">Lachnospiraceae_NK4A136_group</text>
<rect x="337.90" y="218.69" width="5.20" height="3.30" fill="#9a6a90"/>
<text x="345.20" y="221.84" font-size="4.3" fill="#444" stroke="#444" stroke-width="0.120" textLength="30.22" lengthAdjust="spacingAndGlyphs">Muribaculum</text>
<rect x="337.90" y="224.37" width="5.20" height="3.30" fill="#d0a0b0"/>
<text x="345.20" y="227.52" font-size="4.3" fill="#444" stroke="#444" stroke-width="0.120" textLength="51.35" lengthAdjust="spacingAndGlyphs">Erysipelatoclostridium</text>
<rect x="337.90" y="230.05" width="5.20" height="3.30" fill="#8ab8d0"/>
<text x="345.20" y="233.20" font-size="4.3" fill="#444" stroke="#444" stroke-width="0.120" textLength="65.45" lengthAdjust="spacingAndGlyphs">Lachnospiraceae_UCG-006</text>
<rect x="337.90" y="235.73" width="5.20" height="3.30" fill="#e8905a"/>
<text x="345.20" y="238.88" font-size="4.3" fill="#444" stroke="#444" stroke-width="0.120" textLength="78.08" lengthAdjust="spacingAndGlyphs">unclassified_f__Lachnospiraceae</text>
<rect x="337.90" y="241.41" width="5.20" height="3.30" fill="#b03010"/>
<text x="345.20" y="244.56" font-size="4.3" fill="#444" stroke="#444" stroke-width="0.120" textLength="31.99" lengthAdjust="spacingAndGlyphs">Enterococcus</text>
<rect x="337.90" y="247.09" width="5.20" height="3.30" fill="#b0a090"/>
<text x="345.20" y="250.24" font-size="4.3" fill="#444" stroke="#444" stroke-width="0.120" textLength="101.57" lengthAdjust="spacingAndGlyphs">norank_f__norank_o__Gastranaerophilales</text>
<rect x="337.90" y="252.77" width="5.20" height="3.30" fill="#f0a090"/>
<text x="345.20" y="255.92" font-size="4.3" fill="#444" stroke="#444" stroke-width="0.120" textLength="39.63" lengthAdjust="spacingAndGlyphs">GCA-900066575</text>
<rect x="337.90" y="258.45" width="5.20" height="3.30" fill="#e06050"/>
<text x="345.20" y="261.60" font-size="4.3" fill="#444" stroke="#444" stroke-width="0.120" textLength="30.23" lengthAdjust="spacingAndGlyphs">Enterobacter</text>
<rect x="337.90" y="264.13" width="5.20" height="3.30" fill="#30b0c8"/>
<text x="345.20" y="267.28" font-size="4.3" fill="#444" stroke="#444" stroke-width="0.120" textLength="24.07" lengthAdjust="spacingAndGlyphs">Roseburia</text>
<rect x="450.00" y="144.95" width="5.20" height="3.30" fill="#1a8a8a"/>
<text x="457.00" y="148.10" font-size="4.3" fill="#444" stroke="#444" stroke-width="0.120" textLength="36.68" lengthAdjust="spacingAndGlyphs">Colidextribacter</text>
<rect x="450.00" y="150.55" width="5.20" height="3.30" fill="#6a5aa0"/>
<text x="457.00" y="153.70" font-size="4.3" fill="#444" stroke="#444" stroke-width="0.120" textLength="73.97" lengthAdjust="spacingAndGlyphs">Prevotellaceae_NK3B31_group</text>
<rect x="450.00" y="156.15" width="5.20" height="3.30" fill="#e8a0a0"/>
<text x="457.00" y="159.30" font-size="4.3" fill="#444" stroke="#444" stroke-width="0.120" textLength="72.50" lengthAdjust="spacingAndGlyphs">norank_f__Erysipelotrichaceae</text>
<rect x="450.00" y="161.75" width="5.20" height="3.30" fill="#90a8d0"/>
<text x="457.00" y="164.90" font-size="4.3" fill="#444" stroke="#444" stroke-width="0.120" textLength="34.64" lengthAdjust="spacingAndGlyphs">Enterorhabdus</text>
<rect x="450.00" y="167.35" width="5.20" height="3.30" fill="#c0b090"/>
<text x="457.00" y="170.50" font-size="4.3" fill="#444" stroke="#444" stroke-width="0.120" textLength="66.64" lengthAdjust="spacingAndGlyphs">norank_f__Lachnospiraceae</text>
<rect x="450.00" y="172.95" width="5.20" height="3.30" fill="#d03020"/>
<text x="457.00" y="176.10" font-size="4.3" fill="#444" stroke="#444" stroke-width="0.120" textLength="42.55" lengthAdjust="spacingAndGlyphs">Lachnoclostridium</text>
<rect x="450.00" y="178.55" width="5.20" height="3.30" fill="#a08070"/>
<text x="457.00" y="181.70" font-size="4.3" fill="#444" stroke="#444" stroke-width="0.120" textLength="90.40" lengthAdjust="spacingAndGlyphs">norank_f__Eubacterium_coprostanolig</text>
<rect x="450.00" y="184.15" width="5.20" height="3.30" fill="#e8a8a8"/>
<text x="457.00" y="187.30" font-size="4.3" fill="#444" stroke="#444" stroke-width="0.120" textLength="26.12" lengthAdjust="spacingAndGlyphs">Morganella</text>
<rect x="450.00" y="189.75" width="5.20" height="3.30" fill="#a0a8b0"/>
<text x="457.00" y="192.90" font-size="4.3" fill="#444" stroke="#444" stroke-width="0.120" textLength="14.67" lengthAdjust="spacingAndGlyphs">others</text>
<line x1="68.20" y1="287.22" x2="68.20" y2="322.75" stroke="#222" stroke-width="0.9"/>
<line x1="68.20" y1="322.30" x2="124.00" y2="322.30" stroke="#222" stroke-width="0.9"/>
<line x1="66.90" y1="322.30" x2="68.20" y2="322.30" stroke="#222" stroke-width="0.6"/>
<text x="66.60" y="323.25" font-size="2.7" font-weight="bold" text-anchor="end" fill="#222" stroke="#222" stroke-width="0.081" textLength="2.50" lengthAdjust="spacingAndGlyphs">0</text>
<line x1="66.90" y1="313.53" x2="68.20" y2="313.53" stroke="#222" stroke-width="0.6"/>
<text x="66.60" y="314.48" font-size="2.7" font-weight="bold" text-anchor="end" fill="#222" stroke="#222" stroke-width="0.081" textLength="5.00" lengthAdjust="spacingAndGlyphs">10</text>
<line x1="66.90" y1="304.76" x2="68.20" y2="304.76" stroke="#222" stroke-width="0.6"/>
<text x="66.60" y="305.71" font-size="2.7" font-weight="bold" text-anchor="end" fill="#222" stroke="#222" stroke-width="0.081" textLength="5.00" lengthAdjust="spacingAndGlyphs">20</text>
<line x1="66.90" y1="295.99" x2="68.20" y2="295.99" stroke="#222" stroke-width="0.6"/>
<text x="66.60" y="296.94" font-size="2.7" font-weight="bold" text-anchor="end" fill="#222" stroke="#222" stroke-width="0.081" textLength="5.00" lengthAdjust="spacingAndGlyphs">30</text>
<line x1="66.90" y1="287.22" x2="68.20" y2="287.22" stroke="#222" stroke-width="0.6"/>
<text x="66.60" y="288.17" font-size="2.7" font-weight="bold" text-anchor="end" fill="#222" stroke="#222" stroke-width="0.081" textLength="5.00" lengthAdjust="spacingAndGlyphs">40</text>
<rect x="70.80" y="318.10" width="13.40" height="4.20" fill="#c4c4c4" stroke="#999" stroke-width="0.3"/>
<line x1="77.50" y1="316.30" x2="77.50" y2="319.60" stroke="#333" stroke-width="0.5"/>
<line x1="74.20" y1="316.30" x2="80.80" y2="316.30" stroke="#333" stroke-width="0.5"/>
<line x1="74.20" y1="319.60" x2="80.80" y2="319.60" stroke="#333" stroke-width="0.5"/>
<line x1="77.50" y1="322.30" x2="77.50" y2="323.70" stroke="#222" stroke-width="0.6"/>
<text x="77.80" y="327.50" font-size="3.3" font-weight="bold" text-anchor="end" fill="#222" stroke="#222" stroke-width="0.080" textLength="23.30" lengthAdjust="spacingAndGlyphs" transform="rotate(-31 77.80 327.50)">FMT_Vehicle</text>
<rect x="89.90" y="301.00" width="13.40" height="21.30" fill="#cc0a1e" stroke="#8a0010" stroke-width="0.3"/>
<line x1="96.60" y1="297.30" x2="96.60" y2="305.40" stroke="#111" stroke-width="0.5"/>
<line x1="93.30" y1="297.30" x2="99.90" y2="297.30" stroke="#111" stroke-width="0.5"/>
<line x1="93.30" y1="305.40" x2="99.90" y2="305.40" stroke="#111" stroke-width="0.5"/>
<line x1="96.60" y1="322.30" x2="96.60" y2="323.70" stroke="#222" stroke-width="0.6"/>
<text x="96.90" y="327.50" font-size="3.3" font-weight="bold" text-anchor="end" fill="#222" stroke="#222" stroke-width="0.080" textLength="19.60" lengthAdjust="spacingAndGlyphs" transform="rotate(-31 96.90 327.50)">FMT_ANIT</text>
<rect x="109.00" y="316.00" width="13.40" height="6.30" fill="#1b64b0" stroke="#0d3f80" stroke-width="0.3"/>
<line x1="115.70" y1="313.30" x2="115.70" y2="318.30" stroke="#111" stroke-width="0.5"/>
<line x1="112.40" y1="313.30" x2="119.00" y2="313.30" stroke="#111" stroke-width="0.5"/>
<line x1="112.40" y1="318.30" x2="119.00" y2="318.30" stroke="#111" stroke-width="0.5"/>
<line x1="115.70" y1="322.30" x2="115.70" y2="323.70" stroke="#222" stroke-width="0.6"/>
<text x="116.00" y="327.50" font-size="3.3" font-weight="bold" text-anchor="end" fill="#222" stroke="#222" stroke-width="0.080" textLength="20.50" lengthAdjust="spacingAndGlyphs" transform="rotate(-31 116.00 327.50)">FMT_YCHD</text>
<text x="96.40" y="293.60" font-size="4.6" font-weight="bold" text-anchor="middle" fill="#333" textLength="4.40" lengthAdjust="spacingAndGlyphs">**</text>
<text x="115.10" y="310.50" font-size="4.4" font-weight="bold" font-style="italic" text-anchor="middle" fill="#111" stroke="#111" stroke-width="0.132" textLength="3.40" lengthAdjust="spacingAndGlyphs">#</text>
<text x="78.90" y="282.80" font-size="4.3" font-weight="bold" font-style="italic" fill="#111" stroke="#111" stroke-width="0.100" textLength="35.20" lengthAdjust="spacingAndGlyphs">Bacteroides</text>
<text x="47.70" y="304.76" font-size="4.3" font-weight="bold" text-anchor="middle" fill="#222" stroke="#222" stroke-width="0.120" textLength="35.60" lengthAdjust="spacingAndGlyphs" transform="rotate(-90 47.70 304.76)">Relative expression</text>
<line x1="167.30" y1="288.10" x2="167.30" y2="323.05" stroke="#222" stroke-width="0.9"/>
<line x1="167.30" y1="322.60" x2="223.00" y2="322.60" stroke="#222" stroke-width="0.9"/>
<line x1="166.00" y1="322.60" x2="167.30" y2="322.60" stroke="#222" stroke-width="0.6"/>
<text x="165.70" y="323.55" font-size="2.7" font-weight="bold" text-anchor="end" fill="#222" stroke="#222" stroke-width="0.081" textLength="2.50" lengthAdjust="spacingAndGlyphs">0</text>
<line x1="166.00" y1="315.70" x2="167.30" y2="315.70" stroke="#222" stroke-width="0.6"/>
<text x="165.70" y="316.65" font-size="2.7" font-weight="bold" text-anchor="end" fill="#222" stroke="#222" stroke-width="0.081" textLength="2.50" lengthAdjust="spacingAndGlyphs">5</text>
<line x1="166.00" y1="308.80" x2="167.30" y2="308.80" stroke="#222" stroke-width="0.6"/>
<text x="165.70" y="309.75" font-size="2.7" font-weight="bold" text-anchor="end" fill="#222" stroke="#222" stroke-width="0.081" textLength="5.00" lengthAdjust="spacingAndGlyphs">10</text>
<line x1="166.00" y1="301.90" x2="167.30" y2="301.90" stroke="#222" stroke-width="0.6"/>
<text x="165.70" y="302.85" font-size="2.7" font-weight="bold" text-anchor="end" fill="#222" stroke="#222" stroke-width="0.081" textLength="5.00" lengthAdjust="spacingAndGlyphs">15</text>
<line x1="166.00" y1="295.00" x2="167.30" y2="295.00" stroke="#222" stroke-width="0.6"/>
<text x="165.70" y="295.95" font-size="2.7" font-weight="bold" text-anchor="end" fill="#222" stroke="#222" stroke-width="0.081" textLength="5.00" lengthAdjust="spacingAndGlyphs">20</text>
<line x1="166.00" y1="288.10" x2="167.30" y2="288.10" stroke="#222" stroke-width="0.6"/>
<text x="165.70" y="289.05" font-size="2.7" font-weight="bold" text-anchor="end" fill="#222" stroke="#222" stroke-width="0.081" textLength="5.00" lengthAdjust="spacingAndGlyphs">25</text>
<line x1="176.30" y1="322.60" x2="176.30" y2="324.00" stroke="#222" stroke-width="0.6"/>
<text x="176.60" y="327.80" font-size="3.3" font-weight="bold" text-anchor="end" fill="#222" stroke="#222" stroke-width="0.080" textLength="23.30" lengthAdjust="spacingAndGlyphs" transform="rotate(-31 176.60 327.80)">FMT_Vehicle</text>
<rect x="188.50" y="299.00" width="13.40" height="23.60" fill="#cc0a1e" stroke="#8a0010" stroke-width="0.3"/>
<line x1="195.20" y1="295.00" x2="195.20" y2="303.70" stroke="#111" stroke-width="0.5"/>
<line x1="191.90" y1="295.00" x2="198.50" y2="295.00" stroke="#111" stroke-width="0.5"/>
<line x1="191.90" y1="303.70" x2="198.50" y2="303.70" stroke="#111" stroke-width="0.5"/>
<line x1="195.20" y1="322.60" x2="195.20" y2="324.00" stroke="#222" stroke-width="0.6"/>
<text x="195.50" y="327.80" font-size="3.3" font-weight="bold" text-anchor="end" fill="#222" stroke="#222" stroke-width="0.080" textLength="19.60" lengthAdjust="spacingAndGlyphs" transform="rotate(-31 195.50 327.80)">FMT_ANIT</text>
<rect x="207.30" y="317.70" width="13.40" height="4.90" fill="#1b64b0" stroke="#0d3f80" stroke-width="0.3"/>
<line x1="214.00" y1="315.40" x2="214.00" y2="320.50" stroke="#111" stroke-width="0.5"/>
<line x1="210.70" y1="315.40" x2="217.30" y2="315.40" stroke="#111" stroke-width="0.5"/>
<line x1="210.70" y1="320.50" x2="217.30" y2="320.50" stroke="#111" stroke-width="0.5"/>
<line x1="214.00" y1="322.60" x2="214.00" y2="324.00" stroke="#222" stroke-width="0.6"/>
<text x="214.30" y="327.80" font-size="3.3" font-weight="bold" text-anchor="end" fill="#222" stroke="#222" stroke-width="0.080" textLength="20.50" lengthAdjust="spacingAndGlyphs" transform="rotate(-31 214.30 327.80)">FMT_YCHD</text>
<text x="195.10" y="294.80" font-size="4.6" font-weight="bold" text-anchor="middle" fill="#333" textLength="6.60" lengthAdjust="spacingAndGlyphs">***</text>
<text x="213.90" y="312.30" font-size="4.4" font-weight="bold" font-style="italic" text-anchor="middle" fill="#111" stroke="#111" stroke-width="0.132" textLength="6.80" lengthAdjust="spacingAndGlyphs">##</text>
<text x="160.00" y="283.10" font-size="4.3" font-weight="bold" font-style="italic" fill="#111" stroke="#111" stroke-width="0.100" textLength="71.00" lengthAdjust="spacingAndGlyphs">g__Escherichia-Shigella</text>
<text x="140.00" y="305.35" font-size="4.3" font-weight="bold" text-anchor="middle" fill="#222" stroke="#222" stroke-width="0.120" textLength="35.50" lengthAdjust="spacingAndGlyphs" transform="rotate(-90 140.00 305.35)">Relative expression</text>
<line x1="268.50" y1="286.81" x2="268.50" y2="322.75" stroke="#222" stroke-width="0.9"/>
<line x1="268.50" y1="322.30" x2="325.50" y2="322.30" stroke="#222" stroke-width="0.9"/>
<line x1="267.20" y1="322.30" x2="268.50" y2="322.30" stroke="#222" stroke-width="0.6"/>
<text x="266.90" y="323.25" font-size="2.7" font-weight="bold" text-anchor="end" fill="#222" stroke="#222" stroke-width="0.081" textLength="2.50" lengthAdjust="spacingAndGlyphs">0</text>
<line x1="267.20" y1="310.47" x2="268.50" y2="310.47" stroke="#222" stroke-width="0.6"/>
<text x="266.90" y="311.42" font-size="2.7" font-weight="bold" text-anchor="end" fill="#222" stroke="#222" stroke-width="0.081" textLength="2.50" lengthAdjust="spacingAndGlyphs">1</text>
<line x1="267.20" y1="298.64" x2="268.50" y2="298.64" stroke="#222" stroke-width="0.6"/>
<text x="266.90" y="299.59" font-size="2.7" font-weight="bold" text-anchor="end" fill="#222" stroke="#222" stroke-width="0.081" textLength="2.50" lengthAdjust="spacingAndGlyphs">2</text>
<line x1="267.20" y1="286.81" x2="268.50" y2="286.81" stroke="#222" stroke-width="0.6"/>
<text x="266.90" y="287.76" font-size="2.7" font-weight="bold" text-anchor="end" fill="#222" stroke="#222" stroke-width="0.081" textLength="2.50" lengthAdjust="spacingAndGlyphs">3</text>
<rect x="272.20" y="313.70" width="13.40" height="8.60" fill="#c4c4c4" stroke="#999" stroke-width="0.3"/>
<line x1="278.90" y1="312.30" x2="278.90" y2="315.90" stroke="#333" stroke-width="0.5"/>
<line x1="275.60" y1="312.30" x2="282.20" y2="312.30" stroke="#333" stroke-width="0.5"/>
<line x1="275.60" y1="315.90" x2="282.20" y2="315.90" stroke="#333" stroke-width="0.5"/>
<line x1="278.90" y1="322.30" x2="278.90" y2="323.70" stroke="#222" stroke-width="0.6"/>
<text x="279.20" y="327.50" font-size="3.3" font-weight="bold" text-anchor="end" fill="#222" stroke="#222" stroke-width="0.080" textLength="23.30" lengthAdjust="spacingAndGlyphs" transform="rotate(-31 279.20 327.50)">FMT_Vehicle</text>
<rect x="291.50" y="292.80" width="13.40" height="29.50" fill="#cc0a1e" stroke="#8a0010" stroke-width="0.3"/>
<line x1="298.20" y1="289.20" x2="298.20" y2="296.50" stroke="#111" stroke-width="0.5"/>
<line x1="294.90" y1="289.20" x2="301.50" y2="289.20" stroke="#111" stroke-width="0.5"/>
<line x1="294.90" y1="296.50" x2="301.50" y2="296.50" stroke="#111" stroke-width="0.5"/>
<line x1="298.20" y1="322.30" x2="298.20" y2="323.70" stroke="#222" stroke-width="0.6"/>
<text x="298.50" y="327.50" font-size="3.3" font-weight="bold" text-anchor="end" fill="#222" stroke="#222" stroke-width="0.080" textLength="19.60" lengthAdjust="spacingAndGlyphs" transform="rotate(-31 298.50 327.50)">FMT_ANIT</text>
<rect x="310.00" y="308.60" width="13.40" height="13.70" fill="#1b64b0" stroke="#0d3f80" stroke-width="0.3"/>
<line x1="316.70" y1="304.10" x2="316.70" y2="313.20" stroke="#111" stroke-width="0.5"/>
<line x1="313.40" y1="304.10" x2="320.00" y2="304.10" stroke="#111" stroke-width="0.5"/>
<line x1="313.40" y1="313.20" x2="320.00" y2="313.20" stroke="#111" stroke-width="0.5"/>
<line x1="316.70" y1="322.30" x2="316.70" y2="323.70" stroke="#222" stroke-width="0.6"/>
<text x="317.00" y="327.50" font-size="3.3" font-weight="bold" text-anchor="end" fill="#222" stroke="#222" stroke-width="0.080" textLength="20.50" lengthAdjust="spacingAndGlyphs" transform="rotate(-31 317.00 327.50)">FMT_YCHD</text>
<text x="298.00" y="288.80" font-size="4.6" font-weight="bold" text-anchor="middle" fill="#333" textLength="6.60" lengthAdjust="spacingAndGlyphs">***</text>
<text x="316.60" y="300.80" font-size="4.4" font-weight="bold" font-style="italic" text-anchor="middle" fill="#111" stroke="#111" stroke-width="0.132" textLength="3.40" lengthAdjust="spacingAndGlyphs">#</text>
<text x="278.20" y="283.00" font-size="4.3" font-weight="bold" font-style="italic" fill="#111" stroke="#111" stroke-width="0.100" textLength="37.30" lengthAdjust="spacingAndGlyphs">g__UBA1819</text>
<text x="249.40" y="304.56" font-size="4.3" font-weight="bold" text-anchor="middle" fill="#222" stroke="#222" stroke-width="0.120" textLength="35.50" lengthAdjust="spacingAndGlyphs" transform="rotate(-90 249.40 304.56)">Relative expression</text>
<line x1="369.60" y1="287.41" x2="369.60" y2="323.05" stroke="#222" stroke-width="0.9"/>
<line x1="369.60" y1="322.60" x2="426.00" y2="322.60" stroke="#222" stroke-width="0.9"/>
<line x1="368.30" y1="322.60" x2="369.60" y2="322.60" stroke="#222" stroke-width="0.6"/>
<text x="368.00" y="323.55" font-size="2.7" font-weight="bold" text-anchor="end" fill="#222" stroke="#222" stroke-width="0.081" textLength="4.80" lengthAdjust="spacingAndGlyphs">0.0</text>
<line x1="368.30" y1="310.87" x2="369.60" y2="310.87" stroke="#222" stroke-width="0.6"/>
<text x="368.00" y="311.82" font-size="2.7" font-weight="bold" text-anchor="end" fill="#222" stroke="#222" stroke-width="0.081" textLength="4.80" lengthAdjust="spacingAndGlyphs">0.5</text>
<line x1="368.30" y1="299.14" x2="369.60" y2="299.14" stroke="#222" stroke-width="0.6"/>
<text x="368.00" y="300.09" font-size="2.7" font-weight="bold" text-anchor="end" fill="#222" stroke="#222" stroke-width="0.081" textLength="4.80" lengthAdjust="spacingAndGlyphs">1.0</text>
<line x1="368.30" y1="287.41" x2="369.60" y2="287.41" stroke="#222" stroke-width="0.6"/>
<text x="368.00" y="288.36" font-size="2.7" font-weight="bold" text-anchor="end" fill="#222" stroke="#222" stroke-width="0.081" textLength="4.80" lengthAdjust="spacingAndGlyphs">1.5</text>
<rect x="372.50" y="322.20" width="13.40" height="0.40" fill="#c4c4c4" stroke="#999" stroke-width="0.3"/>
<line x1="379.20" y1="322.60" x2="379.20" y2="324.00" stroke="#222" stroke-width="0.6"/>
<text x="379.50" y="327.80" font-size="3.3" font-weight="bold" text-anchor="end" fill="#222" stroke="#222" stroke-width="0.080" textLength="23.30" lengthAdjust="spacingAndGlyphs" transform="rotate(-31 379.50 327.80)">FMT_Vehicle</text>
<rect x="390.90" y="299.50" width="13.40" height="23.10" fill="#cc0a1e" stroke="#8a0010" stroke-width="0.3"/>
<line x1="397.60" y1="294.10" x2="397.60" y2="305.00" stroke="#111" stroke-width="0.5"/>
<line x1="394.30" y1="294.10" x2="400.90" y2="294.10" stroke="#111" stroke-width="0.5"/>
<line x1="394.30" y1="305.00" x2="400.90" y2="305.00" stroke="#111" stroke-width="0.5"/>
<line x1="397.60" y1="322.60" x2="397.60" y2="324.00" stroke="#222" stroke-width="0.6"/>
<text x="397.90" y="327.80" font-size="3.3" font-weight="bold" text-anchor="end" fill="#222" stroke="#222" stroke-width="0.080" textLength="19.60" lengthAdjust="spacingAndGlyphs" transform="rotate(-31 397.90 327.80)">FMT_ANIT</text>
<rect x="410.00" y="319.00" width="13.40" height="3.60" fill="#1b64b0" stroke="#0d3f80" stroke-width="0.3"/>
<line x1="416.70" y1="317.20" x2="416.70" y2="320.50" stroke="#111" stroke-width="0.5"/>
<line x1="413.40" y1="317.20" x2="420.00" y2="317.20" stroke="#111" stroke-width="0.5"/>
<line x1="413.40" y1="320.50" x2="420.00" y2="320.50" stroke="#111" stroke-width="0.5"/>
<line x1="416.70" y1="322.60" x2="416.70" y2="324.00" stroke="#222" stroke-width="0.6"/>
<text x="417.00" y="327.80" font-size="3.3" font-weight="bold" text-anchor="end" fill="#222" stroke="#222" stroke-width="0.080" textLength="20.50" lengthAdjust="spacingAndGlyphs" transform="rotate(-31 417.00 327.80)">FMT_YCHD</text>
<text x="397.50" y="293.00" font-size="4.6" font-weight="bold" text-anchor="middle" fill="#333" textLength="6.60" lengthAdjust="spacingAndGlyphs">***</text>
<text x="416.50" y="314.50" font-size="4.4" font-weight="bold" font-style="italic" text-anchor="middle" fill="#111" stroke="#111" stroke-width="0.132" textLength="6.80" lengthAdjust="spacingAndGlyphs">##</text>
<text x="372.70" y="283.40" font-size="4.3" font-weight="bold" font-style="italic" fill="#111" stroke="#111" stroke-width="0.100" textLength="49.10" lengthAdjust="spacingAndGlyphs">g__Enterobacter</text>
<text x="348.70" y="305.00" font-size="4.3" font-weight="bold" text-anchor="middle" fill="#222" stroke="#222" stroke-width="0.120" textLength="35.50" lengthAdjust="spacingAndGlyphs" transform="rotate(-90 348.70 305.00)">Relative expression</text>
<line x1="469.50" y1="286.80" x2="469.50" y2="322.75" stroke="#222" stroke-width="0.9"/>
<line x1="469.50" y1="322.30" x2="525.50" y2="322.30" stroke="#222" stroke-width="0.9"/>
<line x1="468.20" y1="322.30" x2="469.50" y2="322.30" stroke="#222" stroke-width="0.6"/>
<text x="467.90" y="323.25" font-size="2.7" font-weight="bold" text-anchor="end" fill="#222" stroke="#222" stroke-width="0.081" textLength="2.50" lengthAdjust="spacingAndGlyphs">0</text>
<line x1="468.20" y1="315.20" x2="469.50" y2="315.20" stroke="#222" stroke-width="0.6"/>
<text x="467.90" y="316.15" font-size="2.7" font-weight="bold" text-anchor="end" fill="#222" stroke="#222" stroke-width="0.081" textLength="2.50" lengthAdjust="spacingAndGlyphs">1</text>
<line x1="468.20" y1="308.10" x2="469.50" y2="308.10" stroke="#222" stroke-width="0.6"/>
<text x="467.90" y="309.05" font-size="2.7" font-weight="bold" text-anchor="end" fill="#222" stroke="#222" stroke-width="0.081" textLength="2.50" lengthAdjust="spacingAndGlyphs">2</text>
<line x1="468.20" y1="301.00" x2="469.50" y2="301.00" stroke="#222" stroke-width="0.6"/>
<text x="467.90" y="301.95" font-size="2.7" font-weight="bold" text-anchor="end" fill="#222" stroke="#222" stroke-width="0.081" textLength="2.50" lengthAdjust="spacingAndGlyphs">3</text>
<line x1="468.20" y1="293.90" x2="469.50" y2="293.90" stroke="#222" stroke-width="0.6"/>
<text x="467.90" y="294.85" font-size="2.7" font-weight="bold" text-anchor="end" fill="#222" stroke="#222" stroke-width="0.081" textLength="2.50" lengthAdjust="spacingAndGlyphs">4</text>
<line x1="468.20" y1="286.80" x2="469.50" y2="286.80" stroke="#222" stroke-width="0.6"/>
<text x="467.90" y="287.75" font-size="2.7" font-weight="bold" text-anchor="end" fill="#222" stroke="#222" stroke-width="0.081" textLength="2.50" lengthAdjust="spacingAndGlyphs">5</text>
<line x1="479.20" y1="322.30" x2="479.20" y2="323.70" stroke="#222" stroke-width="0.6"/>
<text x="479.50" y="327.50" font-size="3.3" font-weight="bold" text-anchor="end" fill="#222" stroke="#222" stroke-width="0.080" textLength="23.30" lengthAdjust="spacingAndGlyphs" transform="rotate(-31 479.50 327.50)">FMT_Vehicle</text>
<rect x="491.30" y="296.80" width="13.40" height="25.50" fill="#cc0a1e" stroke="#8a0010" stroke-width="0.3"/>
<line x1="498.00" y1="291.40" x2="498.00" y2="302.80" stroke="#111" stroke-width="0.5"/>
<line x1="494.70" y1="291.40" x2="501.30" y2="291.40" stroke="#111" stroke-width="0.5"/>
<line x1="494.70" y1="302.80" x2="501.30" y2="302.80" stroke="#111" stroke-width="0.5"/>
<line x1="498.00" y1="322.30" x2="498.00" y2="323.70" stroke="#222" stroke-width="0.6"/>
<text x="498.30" y="327.50" font-size="3.3" font-weight="bold" text-anchor="end" fill="#222" stroke="#222" stroke-width="0.080" textLength="19.60" lengthAdjust="spacingAndGlyphs" transform="rotate(-31 498.30 327.50)">FMT_ANIT</text>
<rect x="510.00" y="314.10" width="13.40" height="8.20" fill="#1b64b0" stroke="#0d3f80" stroke-width="0.3"/>
<line x1="516.70" y1="310.80" x2="516.70" y2="318.10" stroke="#111" stroke-width="0.5"/>
<line x1="513.40" y1="310.80" x2="520.00" y2="310.80" stroke="#111" stroke-width="0.5"/>
<line x1="513.40" y1="318.10" x2="520.00" y2="318.10" stroke="#111" stroke-width="0.5"/>
<line x1="516.70" y1="322.30" x2="516.70" y2="323.70" stroke="#222" stroke-width="0.6"/>
<text x="517.00" y="327.50" font-size="3.3" font-weight="bold" text-anchor="end" fill="#222" stroke="#222" stroke-width="0.080" textLength="20.50" lengthAdjust="spacingAndGlyphs" transform="rotate(-31 517.00 327.50)">FMT_YCHD</text>
<text x="497.90" y="290.60" font-size="4.6" font-weight="bold" text-anchor="middle" fill="#333" textLength="6.60" lengthAdjust="spacingAndGlyphs">***</text>
<text x="516.60" y="309.00" font-size="4.4" font-weight="bold" font-style="italic" text-anchor="middle" fill="#111" stroke="#111" stroke-width="0.132" textLength="3.40" lengthAdjust="spacingAndGlyphs">#</text>
<text x="478.20" y="283.20" font-size="4.3" font-weight="bold" font-style="italic" fill="#111" stroke="#111" stroke-width="0.100" textLength="40.00" lengthAdjust="spacingAndGlyphs">g__Klebsiella</text>
<text x="449.10" y="304.55" font-size="4.3" font-weight="bold" text-anchor="middle" fill="#222" stroke="#222" stroke-width="0.120" textLength="35.50" lengthAdjust="spacingAndGlyphs" transform="rotate(-90 449.10 304.55)">Relative expression</text>
<line x1="69.50" y1="356.01" x2="69.50" y2="388.95" stroke="#222" stroke-width="0.9"/>
<line x1="69.50" y1="388.50" x2="123.20" y2="388.50" stroke="#222" stroke-width="0.9"/>
<line x1="68.20" y1="388.50" x2="69.50" y2="388.50" stroke="#222" stroke-width="0.6"/>
<text x="67.90" y="389.45" font-size="2.7" font-weight="bold" text-anchor="end" fill="#222" stroke="#222" stroke-width="0.081" textLength="8.00" lengthAdjust="spacingAndGlyphs">0.000</text>
<line x1="68.20" y1="377.67" x2="69.50" y2="377.67" stroke="#222" stroke-width="0.6"/>
<text x="67.90" y="378.62" font-size="2.7" font-weight="bold" text-anchor="end" fill="#222" stroke="#222" stroke-width="0.081" textLength="8.00" lengthAdjust="spacingAndGlyphs">0.002</text>
<line x1="68.20" y1="366.84" x2="69.50" y2="366.84" stroke="#222" stroke-width="0.6"/>
<text x="67.90" y="367.79" font-size="2.7" font-weight="bold" text-anchor="end" fill="#222" stroke="#222" stroke-width="0.081" textLength="8.00" lengthAdjust="spacingAndGlyphs">0.004</text>
<line x1="68.20" y1="356.01" x2="69.50" y2="356.01" stroke="#222" stroke-width="0.6"/>
<text x="67.90" y="356.96" font-size="2.7" font-weight="bold" text-anchor="end" fill="#222" stroke="#222" stroke-width="0.081" textLength="8.00" lengthAdjust="spacingAndGlyphs">0.006</text>
<rect x="72.80" y="372.20" width="12.70" height="16.30" fill="#c4c4c4" stroke="#999" stroke-width="0.3"/>
<line x1="79.15" y1="369.10" x2="79.15" y2="375.50" stroke="#333" stroke-width="0.5"/>
<line x1="75.85" y1="369.10" x2="82.45" y2="369.10" stroke="#333" stroke-width="0.5"/>
<line x1="75.85" y1="375.50" x2="82.45" y2="375.50" stroke="#333" stroke-width="0.5"/>
<line x1="79.15" y1="388.50" x2="79.15" y2="389.90" stroke="#222" stroke-width="0.6"/>
<text x="79.45" y="393.70" font-size="3.3" font-weight="bold" text-anchor="end" fill="#222" stroke="#222" stroke-width="0.080" textLength="23.30" lengthAdjust="spacingAndGlyphs" transform="rotate(-31 79.45 393.70)">FMT_Vehicle</text>
<rect x="90.50" y="384.00" width="12.70" height="4.50" fill="#cc0a1e" stroke="#8a0010" stroke-width="0.3"/>
<line x1="96.85" y1="382.70" x2="96.85" y2="385.10" stroke="#111" stroke-width="0.5"/>
<line x1="93.55" y1="382.70" x2="100.15" y2="382.70" stroke="#111" stroke-width="0.5"/>
<line x1="93.55" y1="385.10" x2="100.15" y2="385.10" stroke="#111" stroke-width="0.5"/>
<line x1="96.85" y1="388.50" x2="96.85" y2="389.90" stroke="#222" stroke-width="0.6"/>
<text x="97.15" y="393.70" font-size="3.3" font-weight="bold" text-anchor="end" fill="#222" stroke="#222" stroke-width="0.080" textLength="19.60" lengthAdjust="spacingAndGlyphs" transform="rotate(-31 97.15 393.70)">FMT_ANIT</text>
<rect x="108.10" y="368.20" width="12.70" height="20.30" fill="#1b64b0" stroke="#0d3f80" stroke-width="0.3"/>
<line x1="114.45" y1="362.70" x2="114.45" y2="373.60" stroke="#111" stroke-width="0.5"/>
<line x1="111.15" y1="362.70" x2="117.75" y2="362.70" stroke="#111" stroke-width="0.5"/>
<line x1="111.15" y1="373.60" x2="117.75" y2="373.60" stroke="#111" stroke-width="0.5"/>
<line x1="114.45" y1="388.50" x2="114.45" y2="389.90" stroke="#222" stroke-width="0.6"/>
<text x="114.75" y="393.70" font-size="3.3" font-weight="bold" text-anchor="end" fill="#222" stroke="#222" stroke-width="0.080" textLength="20.50" lengthAdjust="spacingAndGlyphs" transform="rotate(-31 114.75 393.70)">FMT_YCHD</text>
<text x="96.80" y="379.80" font-size="4.6" font-weight="bold" text-anchor="middle" fill="#333" textLength="4.40" lengthAdjust="spacingAndGlyphs">**</text>
<text x="114.40" y="359.50" font-size="4.4" font-weight="bold" font-style="italic" text-anchor="middle" fill="#111" stroke="#111" stroke-width="0.132" textLength="3.40" lengthAdjust="spacingAndGlyphs">#</text>
<text x="75.90" y="349.30" font-size="4.3" font-weight="bold" font-style="italic" fill="#111" stroke="#111" stroke-width="0.100" textLength="30.90" lengthAdjust="spacingAndGlyphs">g__norank_f__</text>
<text x="73.20" y="353.50" font-size="4.3" font-weight="bold" font-style="italic" fill="#111" stroke="#111" stroke-width="0.100" textLength="47.30" lengthAdjust="spacingAndGlyphs">norank_o__RF39</text>
<text x="45.00" y="372.25" font-size="4.3" font-weight="bold" text-anchor="middle" fill="#222" stroke="#222" stroke-width="0.120" textLength="32.70" lengthAdjust="spacingAndGlyphs" transform="rotate(-90 45.00 372.25)">Relative expression</text>
<line x1="171.40" y1="356.38" x2="171.40" y2="388.95" stroke="#222" stroke-width="0.9"/>
<line x1="171.40" y1="388.50" x2="225.00" y2="388.50" stroke="#222" stroke-width="0.9"/>
<line x1="170.10" y1="388.50" x2="171.40" y2="388.50" stroke="#222" stroke-width="0.6"/>
<text x="169.80" y="389.45" font-size="2.7" font-weight="bold" text-anchor="end" fill="#222" stroke="#222" stroke-width="0.081" textLength="4.80" lengthAdjust="spacingAndGlyphs">0.0</text>
<line x1="170.10" y1="380.47" x2="171.40" y2="380.47" stroke="#222" stroke-width="0.6"/>
<text x="169.80" y="381.42" font-size="2.7" font-weight="bold" text-anchor="end" fill="#222" stroke="#222" stroke-width="0.081" textLength="4.80" lengthAdjust="spacingAndGlyphs">0.5</text>
<line x1="170.10" y1="372.44" x2="171.40" y2="372.44" stroke="#222" stroke-width="0.6"/>
<text x="169.80" y="373.39" font-size="2.7" font-weight="bold" text-anchor="end" fill="#222" stroke="#222" stroke-width="0.081" textLength="4.80" lengthAdjust="spacingAndGlyphs">1.0</text>
<line x1="170.10" y1="364.41" x2="171.40" y2="364.41" stroke="#222" stroke-width="0.6"/>
<text x="169.80" y="365.36" font-size="2.7" font-weight="bold" text-anchor="end" fill="#222" stroke="#222" stroke-width="0.081" textLength="4.80" lengthAdjust="spacingAndGlyphs">1.5</text>
<line x1="170.10" y1="356.38" x2="171.40" y2="356.38" stroke="#222" stroke-width="0.6"/>
<text x="169.80" y="357.33" font-size="2.7" font-weight="bold" text-anchor="end" fill="#222" stroke="#222" stroke-width="0.081" textLength="4.80" lengthAdjust="spacingAndGlyphs">2.0</text>
<rect x="174.60" y="367.60" width="12.70" height="20.90" fill="#c4c4c4" stroke="#999" stroke-width="0.3"/>
<line x1="180.95" y1="364.00" x2="180.95" y2="371.30" stroke="#333" stroke-width="0.5"/>
<line x1="177.65" y1="364.00" x2="184.25" y2="364.00" stroke="#333" stroke-width="0.5"/>
<line x1="177.65" y1="371.30" x2="184.25" y2="371.30" stroke="#333" stroke-width="0.5"/>
<line x1="180.95" y1="388.50" x2="180.95" y2="389.90" stroke="#222" stroke-width="0.6"/>
<text x="181.25" y="393.70" font-size="3.3" font-weight="bold" text-anchor="end" fill="#222" stroke="#222" stroke-width="0.080" textLength="23.30" lengthAdjust="spacingAndGlyphs" transform="rotate(-31 181.25 393.70)">FMT_Vehicle</text>
<rect x="192.30" y="384.00" width="12.70" height="4.50" fill="#cc0a1e" stroke="#8a0010" stroke-width="0.3"/>
<line x1="198.65" y1="381.50" x2="198.65" y2="387.30" stroke="#111" stroke-width="0.5"/>
<line x1="195.35" y1="381.50" x2="201.95" y2="381.50" stroke="#111" stroke-width="0.5"/>
<line x1="195.35" y1="387.30" x2="201.95" y2="387.30" stroke="#111" stroke-width="0.5"/>
<line x1="198.65" y1="388.50" x2="198.65" y2="389.90" stroke="#222" stroke-width="0.6"/>
<text x="198.95" y="393.70" font-size="3.3" font-weight="bold" text-anchor="end" fill="#222" stroke="#222" stroke-width="0.080" textLength="19.60" lengthAdjust="spacingAndGlyphs" transform="rotate(-31 198.95 393.70)">FMT_ANIT</text>
<rect x="209.90" y="375.50" width="12.70" height="13.00" fill="#1b64b0" stroke="#0d3f80" stroke-width="0.3"/>
<line x1="216.25" y1="373.30" x2="216.25" y2="377.80" stroke="#111" stroke-width="0.5"/>
<line x1="212.95" y1="373.30" x2="219.55" y2="373.30" stroke="#111" stroke-width="0.5"/>
<line x1="212.95" y1="377.80" x2="219.55" y2="377.80" stroke="#111" stroke-width="0.5"/>
<line x1="216.25" y1="388.50" x2="216.25" y2="389.90" stroke="#222" stroke-width="0.6"/>
<text x="216.55" y="393.70" font-size="3.3" font-weight="bold" text-anchor="end" fill="#222" stroke="#222" stroke-width="0.080" textLength="20.50" lengthAdjust="spacingAndGlyphs" transform="rotate(-31 216.55 393.70)">FMT_YCHD</text>
<text x="198.60" y="379.80" font-size="4.6" font-weight="bold" text-anchor="middle" fill="#333" textLength="4.40" lengthAdjust="spacingAndGlyphs">**</text>
<text x="216.20" y="370.00" font-size="4.4" font-weight="bold" font-style="italic" text-anchor="middle" fill="#111" stroke="#111" stroke-width="0.132" textLength="3.40" lengthAdjust="spacingAndGlyphs">#</text>
<text x="179.20" y="352.00" font-size="4.3" font-weight="bold" font-style="italic" fill="#111" stroke="#111" stroke-width="0.100" textLength="39.10" lengthAdjust="spacingAndGlyphs">g__Roseburia</text>
<text x="147.20" y="372.44" font-size="4.3" font-weight="bold" text-anchor="middle" fill="#222" stroke="#222" stroke-width="0.120" textLength="32.30" lengthAdjust="spacingAndGlyphs" transform="rotate(-90 147.20 372.44)">Relative expression</text>
<line x1="269.90" y1="355.98" x2="269.90" y2="388.95" stroke="#222" stroke-width="0.9"/>
<line x1="269.90" y1="388.50" x2="325.00" y2="388.50" stroke="#222" stroke-width="0.9"/>
<line x1="268.60" y1="388.50" x2="269.90" y2="388.50" stroke="#222" stroke-width="0.6"/>
<text x="268.30" y="389.45" font-size="2.7" font-weight="bold" text-anchor="end" fill="#222" stroke="#222" stroke-width="0.081" textLength="9.60" lengthAdjust="spacingAndGlyphs">0.0000</text>
<line x1="268.60" y1="380.37" x2="269.90" y2="380.37" stroke="#222" stroke-width="0.6"/>
<text x="268.30" y="381.32" font-size="2.7" font-weight="bold" text-anchor="end" fill="#222" stroke="#222" stroke-width="0.081" textLength="9.60" lengthAdjust="spacingAndGlyphs">0.0002</text>
<line x1="268.60" y1="372.24" x2="269.90" y2="372.24" stroke="#222" stroke-width="0.6"/>
<text x="268.30" y="373.19" font-size="2.7" font-weight="bold" text-anchor="end" fill="#222" stroke="#222" stroke-width="0.081" textLength="9.60" lengthAdjust="spacingAndGlyphs">0.0004</text>
<line x1="268.60" y1="364.11" x2="269.90" y2="364.11" stroke="#222" stroke-width="0.6"/>
<text x="268.30" y="365.06" font-size="2.7" font-weight="bold" text-anchor="end" fill="#222" stroke="#222" stroke-width="0.081" textLength="9.60" lengthAdjust="spacingAndGlyphs">0.0006</text>
<line x1="268.60" y1="355.98" x2="269.90" y2="355.98" stroke="#222" stroke-width="0.6"/>
<text x="268.30" y="356.93" font-size="2.7" font-weight="bold" text-anchor="end" fill="#222" stroke="#222" stroke-width="0.081" textLength="9.60" lengthAdjust="spacingAndGlyphs">0.0008</text>
<rect x="273.70" y="373.30" width="12.70" height="15.20" fill="#c4c4c4" stroke="#999" stroke-width="0.3"/>
<line x1="280.05" y1="369.50" x2="280.05" y2="377.30" stroke="#333" stroke-width="0.5"/>
<line x1="276.75" y1="369.50" x2="283.35" y2="369.50" stroke="#333" stroke-width="0.5"/>
<line x1="276.75" y1="377.30" x2="283.35" y2="377.30" stroke="#333" stroke-width="0.5"/>
<line x1="280.05" y1="388.50" x2="280.05" y2="389.90" stroke="#222" stroke-width="0.6"/>
<text x="280.35" y="393.70" font-size="3.3" font-weight="bold" text-anchor="end" fill="#222" stroke="#222" stroke-width="0.080" textLength="23.30" lengthAdjust="spacingAndGlyphs" transform="rotate(-31 280.35 393.70)">FMT_Vehicle</text>
<rect x="291.40" y="385.80" width="12.70" height="2.70" fill="#cc0a1e" stroke="#8a0010" stroke-width="0.3"/>
<line x1="297.75" y1="384.20" x2="297.75" y2="387.60" stroke="#111" stroke-width="0.5"/>
<line x1="294.45" y1="384.20" x2="301.05" y2="384.20" stroke="#111" stroke-width="0.5"/>
<line x1="294.45" y1="387.60" x2="301.05" y2="387.60" stroke="#111" stroke-width="0.5"/>
<line x1="297.75" y1="388.50" x2="297.75" y2="389.90" stroke="#222" stroke-width="0.6"/>
<text x="298.05" y="393.70" font-size="3.3" font-weight="bold" text-anchor="end" fill="#222" stroke="#222" stroke-width="0.080" textLength="19.60" lengthAdjust="spacingAndGlyphs" transform="rotate(-31 298.05 393.70)">FMT_ANIT</text>
<rect x="309.50" y="368.70" width="12.70" height="19.80" fill="#1b64b0" stroke="#0d3f80" stroke-width="0.3"/>
<line x1="315.85" y1="365.10" x2="315.85" y2="372.70" stroke="#111" stroke-width="0.5"/>
<line x1="312.55" y1="365.10" x2="319.15" y2="365.10" stroke="#111" stroke-width="0.5"/>
<line x1="312.55" y1="372.70" x2="319.15" y2="372.70" stroke="#111" stroke-width="0.5"/>
<line x1="315.85" y1="388.50" x2="315.85" y2="389.90" stroke="#222" stroke-width="0.6"/>
<text x="316.15" y="393.70" font-size="3.3" font-weight="bold" text-anchor="end" fill="#222" stroke="#222" stroke-width="0.080" textLength="20.50" lengthAdjust="spacingAndGlyphs" transform="rotate(-31 316.15 393.70)">FMT_YCHD</text>
<text x="297.70" y="379.80" font-size="4.6" font-weight="bold" text-anchor="middle" fill="#333" textLength="2.20" lengthAdjust="spacingAndGlyphs">*</text>
<text x="315.70" y="361.70" font-size="4.4" font-weight="bold" font-style="italic" text-anchor="middle" fill="#111" stroke="#111" stroke-width="0.132" textLength="6.80" lengthAdjust="spacingAndGlyphs">##</text>
<text x="275.40" y="352.00" font-size="4.3" font-weight="bold" font-style="italic" fill="#111" stroke="#111" stroke-width="0.100" textLength="45.10" lengthAdjust="spacingAndGlyphs">g__Acetatifactor</text>
<text x="245.90" y="372.24" font-size="4.3" font-weight="bold" text-anchor="middle" fill="#222" stroke="#222" stroke-width="0.120" textLength="32.70" lengthAdjust="spacingAndGlyphs" transform="rotate(-90 245.90 372.24)">Relative expression</text>
<line x1="369.90" y1="355.98" x2="369.90" y2="388.95" stroke="#222" stroke-width="0.9"/>
<line x1="369.90" y1="388.50" x2="424.50" y2="388.50" stroke="#222" stroke-width="0.9"/>
<line x1="368.60" y1="388.50" x2="369.90" y2="388.50" stroke="#222" stroke-width="0.6"/>
<text x="368.30" y="389.45" font-size="2.7" font-weight="bold" text-anchor="end" fill="#222" stroke="#222" stroke-width="0.081" textLength="4.80" lengthAdjust="spacingAndGlyphs">0.0</text>
<line x1="368.60" y1="380.37" x2="369.90" y2="380.37" stroke="#222" stroke-width="0.6"/>
<text x="368.30" y="381.32" font-size="2.7" font-weight="bold" text-anchor="end" fill="#222" stroke="#222" stroke-width="0.081" textLength="4.80" lengthAdjust="spacingAndGlyphs">0.2</text>
<line x1="368.60" y1="372.24" x2="369.90" y2="372.24" stroke="#222" stroke-width="0.6"/>
<text x="368.30" y="373.19" font-size="2.7" font-weight="bold" text-anchor="end" fill="#222" stroke="#222" stroke-width="0.081" textLength="4.80" lengthAdjust="spacingAndGlyphs">0.4</text>
<line x1="368.60" y1="364.11" x2="369.90" y2="364.11" stroke="#222" stroke-width="0.6"/>
<text x="368.30" y="365.06" font-size="2.7" font-weight="bold" text-anchor="end" fill="#222" stroke="#222" stroke-width="0.081" textLength="4.80" lengthAdjust="spacingAndGlyphs">0.6</text>
<line x1="368.60" y1="355.98" x2="369.90" y2="355.98" stroke="#222" stroke-width="0.6"/>
<text x="368.30" y="356.93" font-size="2.7" font-weight="bold" text-anchor="end" fill="#222" stroke="#222" stroke-width="0.081" textLength="4.80" lengthAdjust="spacingAndGlyphs">0.8</text>
<rect x="373.70" y="366.90" width="12.70" height="21.60" fill="#c4c4c4" stroke="#999" stroke-width="0.3"/>
<line x1="380.05" y1="362.20" x2="380.05" y2="371.80" stroke="#333" stroke-width="0.5"/>
<line x1="376.75" y1="362.20" x2="383.35" y2="362.20" stroke="#333" stroke-width="0.5"/>
<line x1="376.75" y1="371.80" x2="383.35" y2="371.80" stroke="#333" stroke-width="0.5"/>
<line x1="380.05" y1="388.50" x2="380.05" y2="389.90" stroke="#222" stroke-width="0.6"/>
<text x="380.35" y="393.70" font-size="3.3" font-weight="bold" text-anchor="end" fill="#222" stroke="#222" stroke-width="0.080" textLength="23.30" lengthAdjust="spacingAndGlyphs" transform="rotate(-31 380.35 393.70)">FMT_Vehicle</text>
<rect x="391.00" y="386.00" width="12.70" height="2.50" fill="#cc0a1e" stroke="#8a0010" stroke-width="0.3"/>
<line x1="397.35" y1="385.10" x2="397.35" y2="386.90" stroke="#111" stroke-width="0.5"/>
<line x1="394.05" y1="385.10" x2="400.65" y2="385.10" stroke="#111" stroke-width="0.5"/>
<line x1="394.05" y1="386.90" x2="400.65" y2="386.90" stroke="#111" stroke-width="0.5"/>
<line x1="397.35" y1="388.50" x2="397.35" y2="389.90" stroke="#222" stroke-width="0.6"/>
<text x="397.65" y="393.70" font-size="3.3" font-weight="bold" text-anchor="end" fill="#222" stroke="#222" stroke-width="0.080" textLength="19.60" lengthAdjust="spacingAndGlyphs" transform="rotate(-31 397.65 393.70)">FMT_ANIT</text>
<rect x="409.50" y="363.60" width="12.70" height="24.90" fill="#1b64b0" stroke="#0d3f80" stroke-width="0.3"/>
<line x1="415.85" y1="358.20" x2="415.85" y2="369.10" stroke="#111" stroke-width="0.5"/>
<line x1="412.55" y1="358.20" x2="419.15" y2="358.20" stroke="#111" stroke-width="0.5"/>
<line x1="412.55" y1="369.10" x2="419.15" y2="369.10" stroke="#111" stroke-width="0.5"/>
<line x1="415.85" y1="388.50" x2="415.85" y2="389.90" stroke="#222" stroke-width="0.6"/>
<text x="416.15" y="393.70" font-size="3.3" font-weight="bold" text-anchor="end" fill="#222" stroke="#222" stroke-width="0.080" textLength="20.50" lengthAdjust="spacingAndGlyphs" transform="rotate(-31 416.15 393.70)">FMT_YCHD</text>
<text x="397.30" y="382.50" font-size="4.6" font-weight="bold" text-anchor="middle" fill="#333" textLength="4.40" lengthAdjust="spacingAndGlyphs">**</text>
<text x="415.40" y="356.80" font-size="4.4" font-weight="bold" font-style="italic" text-anchor="middle" fill="#111" stroke="#111" stroke-width="0.132" textLength="6.80" lengthAdjust="spacingAndGlyphs">##</text>
<text x="377.20" y="347.50" font-size="4.3" font-weight="bold" font-style="italic" fill="#111" stroke="#111" stroke-width="0.100" textLength="40.50" lengthAdjust="spacingAndGlyphs">g__norank_f__</text>
<text x="373.70" y="351.60" font-size="4.3" font-weight="bold" font-style="italic" fill="#111" stroke="#111" stroke-width="0.100" textLength="46.80" lengthAdjust="spacingAndGlyphs">Lachnospiraceae</text>
<text x="345.90" y="372.24" font-size="4.3" font-weight="bold" text-anchor="middle" fill="#222" stroke="#222" stroke-width="0.120" textLength="32.70" lengthAdjust="spacingAndGlyphs" transform="rotate(-90 345.90 372.24)">Relative expression</text>
<line x1="468.10" y1="354.20" x2="468.10" y2="388.05" stroke="#222" stroke-width="0.9"/>
<line x1="468.10" y1="387.60" x2="524.00" y2="387.60" stroke="#222" stroke-width="0.9"/>
<line x1="466.80" y1="387.60" x2="468.10" y2="387.60" stroke="#222" stroke-width="0.6"/>
<text x="466.50" y="388.55" font-size="2.7" font-weight="bold" text-anchor="end" fill="#222" stroke="#222" stroke-width="0.081" textLength="4.80" lengthAdjust="spacingAndGlyphs">0.0</text>
<line x1="466.80" y1="379.25" x2="468.10" y2="379.25" stroke="#222" stroke-width="0.6"/>
<text x="466.50" y="380.20" font-size="2.7" font-weight="bold" text-anchor="end" fill="#222" stroke="#222" stroke-width="0.081" textLength="4.80" lengthAdjust="spacingAndGlyphs">0.1</text>
<line x1="466.80" y1="370.90" x2="468.10" y2="370.90" stroke="#222" stroke-width="0.6"/>
<text x="466.50" y="371.85" font-size="2.7" font-weight="bold" text-anchor="end" fill="#222" stroke="#222" stroke-width="0.081" textLength="4.80" lengthAdjust="spacingAndGlyphs">0.2</text>
<line x1="466.80" y1="362.55" x2="468.10" y2="362.55" stroke="#222" stroke-width="0.6"/>
<text x="466.50" y="363.50" font-size="2.7" font-weight="bold" text-anchor="end" fill="#222" stroke="#222" stroke-width="0.081" textLength="4.80" lengthAdjust="spacingAndGlyphs">0.3</text>
<line x1="466.80" y1="354.20" x2="468.10" y2="354.20" stroke="#222" stroke-width="0.6"/>
<text x="466.50" y="355.15" font-size="2.7" font-weight="bold" text-anchor="end" fill="#222" stroke="#222" stroke-width="0.081" textLength="4.80" lengthAdjust="spacingAndGlyphs">0.4</text>
<rect x="472.30" y="371.80" width="12.70" height="15.80" fill="#c4c4c4" stroke="#999" stroke-width="0.3"/>
<line x1="478.65" y1="368.20" x2="478.65" y2="375.10" stroke="#333" stroke-width="0.5"/>
<line x1="475.35" y1="368.20" x2="481.95" y2="368.20" stroke="#333" stroke-width="0.5"/>
<line x1="475.35" y1="375.10" x2="481.95" y2="375.10" stroke="#333" stroke-width="0.5"/>
<line x1="478.65" y1="387.60" x2="478.65" y2="389.00" stroke="#222" stroke-width="0.6"/>
<text x="478.95" y="392.80" font-size="3.3" font-weight="bold" text-anchor="end" fill="#222" stroke="#222" stroke-width="0.080" textLength="22.50" lengthAdjust="spacingAndGlyphs" transform="rotate(-35 478.95 392.80)">FMT_Vehicle</text>
<rect x="489.90" y="386.40" width="12.70" height="1.20" fill="#cc0a1e" stroke="#8a0010" stroke-width="0.3"/>
<line x1="496.25" y1="385.50" x2="496.25" y2="386.90" stroke="#111" stroke-width="0.5"/>
<line x1="492.95" y1="385.50" x2="499.55" y2="385.50" stroke="#111" stroke-width="0.5"/>
<line x1="492.95" y1="386.90" x2="499.55" y2="386.90" stroke="#111" stroke-width="0.5"/>
<line x1="496.25" y1="387.60" x2="496.25" y2="389.00" stroke="#222" stroke-width="0.6"/>
<text x="496.55" y="392.80" font-size="3.3" font-weight="bold" text-anchor="end" fill="#222" stroke="#222" stroke-width="0.080" textLength="19.00" lengthAdjust="spacingAndGlyphs" transform="rotate(-35 496.55 392.80)">FMT_ANIT</text>
<rect x="508.60" y="365.10" width="12.70" height="22.50" fill="#1b64b0" stroke="#0d3f80" stroke-width="0.3"/>
<line x1="514.95" y1="359.10" x2="514.95" y2="371.30" stroke="#111" stroke-width="0.5"/>
<line x1="511.65" y1="359.10" x2="518.25" y2="359.10" stroke="#111" stroke-width="0.5"/>
<line x1="511.65" y1="371.30" x2="518.25" y2="371.30" stroke="#111" stroke-width="0.5"/>
<line x1="514.95" y1="387.60" x2="514.95" y2="389.00" stroke="#222" stroke-width="0.6"/>
<text x="515.25" y="392.80" font-size="3.3" font-weight="bold" text-anchor="end" fill="#222" stroke="#222" stroke-width="0.080" textLength="20.00" lengthAdjust="spacingAndGlyphs" transform="rotate(-35 515.25 392.80)">FMT_YCHD</text>
<text x="496.20" y="381.60" font-size="4.6" font-weight="bold" text-anchor="middle" fill="#333" textLength="6.60" lengthAdjust="spacingAndGlyphs">***</text>
<text x="515.00" y="357.30" font-size="4.4" font-weight="bold" font-style="italic" text-anchor="middle" fill="#111" stroke="#111" stroke-width="0.132" textLength="6.80" lengthAdjust="spacingAndGlyphs">##</text>
<text x="475.40" y="347.80" font-size="4.3" font-weight="bold" font-style="italic" fill="#111" stroke="#111" stroke-width="0.100" textLength="42.30" lengthAdjust="spacingAndGlyphs">g__norank_f__</text>
<text x="473.20" y="352.00" font-size="4.3" font-weight="bold" font-style="italic" fill="#111" stroke="#111" stroke-width="0.100" textLength="47.30" lengthAdjust="spacingAndGlyphs">Peptococcaceae</text>
<text x="445.90" y="370.90" font-size="4.3" font-weight="bold" text-anchor="middle" fill="#222" stroke="#222" stroke-width="0.120" textLength="33.40" lengthAdjust="spacingAndGlyphs" transform="rotate(-90 445.90 370.90)">Relative expression</text>
<line x1="69.50" y1="424.48" x2="69.50" y2="454.05" stroke="#222" stroke-width="0.9"/>
<line x1="69.50" y1="453.60" x2="115.90" y2="453.60" stroke="#222" stroke-width="0.9"/>
<line x1="68.20" y1="453.60" x2="69.50" y2="453.60" stroke="#222" stroke-width="0.6"/>
<text x="67.90" y="454.55" font-size="2.7" font-weight="bold" text-anchor="end" fill="#222" stroke="#222" stroke-width="0.081" textLength="8.00" lengthAdjust="spacingAndGlyphs">0.000</text>
<line x1="68.20" y1="446.32" x2="69.50" y2="446.32" stroke="#222" stroke-width="0.6"/>
<text x="67.90" y="447.27" font-size="2.7" font-weight="bold" text-anchor="end" fill="#222" stroke="#222" stroke-width="0.081" textLength="8.00" lengthAdjust="spacingAndGlyphs">0.050</text>
<line x1="68.20" y1="439.04" x2="69.50" y2="439.04" stroke="#222" stroke-width="0.6"/>
<text x="67.90" y="439.99" font-size="2.7" font-weight="bold" text-anchor="end" fill="#222" stroke="#222" stroke-width="0.081" textLength="8.00" lengthAdjust="spacingAndGlyphs">0.100</text>
<line x1="68.20" y1="431.76" x2="69.50" y2="431.76" stroke="#222" stroke-width="0.6"/>
<text x="67.90" y="432.71" font-size="2.7" font-weight="bold" text-anchor="end" fill="#222" stroke="#222" stroke-width="0.081" textLength="8.00" lengthAdjust="spacingAndGlyphs">0.150</text>
<line x1="68.20" y1="424.48" x2="69.50" y2="424.48" stroke="#222" stroke-width="0.6"/>
<text x="67.90" y="425.43" font-size="2.7" font-weight="bold" text-anchor="end" fill="#222" stroke="#222" stroke-width="0.081" textLength="8.00" lengthAdjust="spacingAndGlyphs">0.200</text>
<rect x="72.30" y="430.00" width="11.20" height="23.60" fill="#c4c4c4" stroke="#999" stroke-width="0.3"/>
<line x1="77.90" y1="426.90" x2="77.90" y2="433.60" stroke="#333" stroke-width="0.5"/>
<line x1="74.60" y1="426.90" x2="81.20" y2="426.90" stroke="#333" stroke-width="0.5"/>
<line x1="74.60" y1="433.60" x2="81.20" y2="433.60" stroke="#333" stroke-width="0.5"/>
<line x1="77.90" y1="453.60" x2="77.90" y2="455.00" stroke="#222" stroke-width="0.6"/>
<text x="78.20" y="458.80" font-size="3.3" font-weight="bold" text-anchor="end" fill="#222" stroke="#222" stroke-width="0.080" textLength="19.00" lengthAdjust="spacingAndGlyphs" transform="rotate(-31 78.20 458.80)">FMT_Vehicle</text>
<rect x="87.40" y="447.80" width="11.20" height="5.80" fill="#cc0a1e" stroke="#8a0010" stroke-width="0.3"/>
<line x1="93.00" y1="445.10" x2="93.00" y2="450.50" stroke="#111" stroke-width="0.5"/>
<line x1="89.70" y1="445.10" x2="96.30" y2="445.10" stroke="#111" stroke-width="0.5"/>
<line x1="89.70" y1="450.50" x2="96.30" y2="450.50" stroke="#111" stroke-width="0.5"/>
<line x1="93.00" y1="453.60" x2="93.00" y2="455.00" stroke="#222" stroke-width="0.6"/>
<text x="93.30" y="458.80" font-size="3.3" font-weight="bold" text-anchor="end" fill="#222" stroke="#222" stroke-width="0.080" textLength="16.00" lengthAdjust="spacingAndGlyphs" transform="rotate(-31 93.30 458.80)">FMT_ANIT</text>
<rect x="103.20" y="436.70" width="11.20" height="16.90" fill="#1b64b0" stroke="#0d3f80" stroke-width="0.3"/>
<line x1="108.80" y1="434.20" x2="108.80" y2="439.60" stroke="#111" stroke-width="0.5"/>
<line x1="105.50" y1="434.20" x2="112.10" y2="434.20" stroke="#111" stroke-width="0.5"/>
<line x1="105.50" y1="439.60" x2="112.10" y2="439.60" stroke="#111" stroke-width="0.5"/>
<line x1="108.80" y1="453.60" x2="108.80" y2="455.00" stroke="#222" stroke-width="0.6"/>
<text x="109.10" y="458.80" font-size="3.3" font-weight="bold" text-anchor="end" fill="#222" stroke="#222" stroke-width="0.080" textLength="17.00" lengthAdjust="spacingAndGlyphs" transform="rotate(-31 109.10 458.80)">FMT_YCHD</text>
<text x="93.00" y="444.00" font-size="4.6" font-weight="bold" text-anchor="middle" fill="#333" textLength="4.40" lengthAdjust="spacingAndGlyphs">**</text>
<text x="108.90" y="431.30" font-size="4.4" font-weight="bold" font-style="italic" text-anchor="middle" fill="#111" stroke="#111" stroke-width="0.132" textLength="3.40" lengthAdjust="spacingAndGlyphs">#</text>
<text x="60.10" y="419.30" font-size="4.3" font-weight="bold" font-style="italic" fill="#111" stroke="#111" stroke-width="0.100" textLength="64.90" lengthAdjust="spacingAndGlyphs">g__norank_f__norank_o__</text>
<text x="69.50" y="423.50" font-size="4.3" font-weight="bold" font-style="italic" fill="#111" stroke="#111" stroke-width="0.100" textLength="46.40" lengthAdjust="spacingAndGlyphs">Clostridia_UCG-014</text>
<text x="48.60" y="439.04" font-size="4.3" font-weight="bold" text-anchor="middle" fill="#222" stroke="#222" stroke-width="0.120" textLength="29.10" lengthAdjust="spacingAndGlyphs" transform="rotate(-90 48.60 439.04)">Relative expression</text>
<line x1="172.80" y1="421.52" x2="172.80" y2="452.85" stroke="#222" stroke-width="0.9"/>
<line x1="172.80" y1="452.40" x2="223.70" y2="452.40" stroke="#222" stroke-width="0.9"/>
<line x1="171.50" y1="452.40" x2="172.80" y2="452.40" stroke="#222" stroke-width="0.6"/>
<text x="171.20" y="453.35" font-size="2.7" font-weight="bold" text-anchor="end" fill="#222" stroke="#222" stroke-width="0.081" textLength="4.80" lengthAdjust="spacingAndGlyphs">0.0</text>
<line x1="171.50" y1="444.68" x2="172.80" y2="444.68" stroke="#222" stroke-width="0.6"/>
<text x="171.20" y="445.63" font-size="2.7" font-weight="bold" text-anchor="end" fill="#222" stroke="#222" stroke-width="0.081" textLength="4.80" lengthAdjust="spacingAndGlyphs">0.5</text>
<line x1="171.50" y1="436.96" x2="172.80" y2="436.96" stroke="#222" stroke-width="0.6"/>
<text x="171.20" y="437.91" font-size="2.7" font-weight="bold" text-anchor="end" fill="#222" stroke="#222" stroke-width="0.081" textLength="4.80" lengthAdjust="spacingAndGlyphs">1.0</text>
<line x1="171.50" y1="429.24" x2="172.80" y2="429.24" stroke="#222" stroke-width="0.6"/>
<text x="171.20" y="430.19" font-size="2.7" font-weight="bold" text-anchor="end" fill="#222" stroke="#222" stroke-width="0.081" textLength="4.80" lengthAdjust="spacingAndGlyphs">1.5</text>
<line x1="171.50" y1="421.52" x2="172.80" y2="421.52" stroke="#222" stroke-width="0.6"/>
<text x="171.20" y="422.47" font-size="2.7" font-weight="bold" text-anchor="end" fill="#222" stroke="#222" stroke-width="0.081" textLength="4.80" lengthAdjust="spacingAndGlyphs">2.0</text>
<rect x="175.90" y="428.20" width="12.00" height="24.20" fill="#c4c4c4" stroke="#999" stroke-width="0.3"/>
<line x1="181.90" y1="424.20" x2="181.90" y2="432.40" stroke="#333" stroke-width="0.5"/>
<line x1="178.60" y1="424.20" x2="185.20" y2="424.20" stroke="#333" stroke-width="0.5"/>
<line x1="178.60" y1="432.40" x2="185.20" y2="432.40" stroke="#333" stroke-width="0.5"/>
<line x1="181.90" y1="452.40" x2="181.90" y2="453.80" stroke="#222" stroke-width="0.6"/>
<text x="182.20" y="457.60" font-size="3.3" font-weight="bold" text-anchor="end" fill="#222" stroke="#222" stroke-width="0.080" textLength="20.00" lengthAdjust="spacingAndGlyphs" transform="rotate(-31 182.20 457.60)">FMT_Vehicle</text>
<rect x="192.80" y="446.40" width="12.00" height="6.00" fill="#cc0a1e" stroke="#8a0010" stroke-width="0.3"/>
<line x1="198.80" y1="443.30" x2="198.80" y2="449.10" stroke="#111" stroke-width="0.5"/>
<line x1="195.50" y1="443.30" x2="202.10" y2="443.30" stroke="#111" stroke-width="0.5"/>
<line x1="195.50" y1="449.10" x2="202.10" y2="449.10" stroke="#111" stroke-width="0.5"/>
<line x1="198.80" y1="452.40" x2="198.80" y2="453.80" stroke="#222" stroke-width="0.6"/>
<text x="199.10" y="457.60" font-size="3.3" font-weight="bold" text-anchor="end" fill="#222" stroke="#222" stroke-width="0.080" textLength="17.00" lengthAdjust="spacingAndGlyphs" transform="rotate(-31 199.10 457.60)">FMT_ANIT</text>
<rect x="209.50" y="431.80" width="12.00" height="20.60" fill="#1b64b0" stroke="#0d3f80" stroke-width="0.3"/>
<line x1="215.50" y1="428.70" x2="215.50" y2="434.90" stroke="#111" stroke-width="0.5"/>
<line x1="212.20" y1="428.70" x2="218.80" y2="428.70" stroke="#111" stroke-width="0.5"/>
<line x1="212.20" y1="434.90" x2="218.80" y2="434.90" stroke="#111" stroke-width="0.5"/>
<line x1="215.50" y1="452.40" x2="215.50" y2="453.80" stroke="#222" stroke-width="0.6"/>
<text x="215.80" y="457.60" font-size="3.3" font-weight="bold" text-anchor="end" fill="#222" stroke="#222" stroke-width="0.080" textLength="18.00" lengthAdjust="spacingAndGlyphs" transform="rotate(-31 215.80 457.60)">FMT_YCHD</text>
<text x="198.70" y="442.10" font-size="4.6" font-weight="bold" text-anchor="middle" fill="#333" textLength="4.40" lengthAdjust="spacingAndGlyphs">**</text>
<text x="215.30" y="426.80" font-size="4.4" font-weight="bold" font-style="italic" text-anchor="middle" fill="#111" stroke="#111" stroke-width="0.132" textLength="6.80" lengthAdjust="spacingAndGlyphs">##</text>
<text x="170.10" y="415.30" font-size="4.3" font-weight="bold" font-style="italic" fill="#111" stroke="#111" stroke-width="0.100" textLength="56.70" lengthAdjust="spacingAndGlyphs">g__Lachnospiraceae_</text>
<text x="176.50" y="419.30" font-size="4.3" font-weight="bold" font-style="italic" fill="#111" stroke="#111" stroke-width="0.100" textLength="39.40" lengthAdjust="spacingAndGlyphs">NK4A136_group</text>
<text x="150.40" y="436.96" font-size="4.3" font-weight="bold" text-anchor="middle" fill="#222" stroke="#222" stroke-width="0.120" textLength="30.90" lengthAdjust="spacingAndGlyphs" transform="rotate(-90 150.40 436.96)">Relative expression</text>
<line x1="273.20" y1="419.10" x2="273.20" y2="451.95" stroke="#222" stroke-width="0.9"/>
<line x1="273.20" y1="451.50" x2="327.00" y2="451.50" stroke="#222" stroke-width="0.9"/>
<line x1="271.90" y1="451.50" x2="273.20" y2="451.50" stroke="#222" stroke-width="0.6"/>
<text x="271.60" y="452.45" font-size="2.7" font-weight="bold" text-anchor="end" fill="#222" stroke="#222" stroke-width="0.081" textLength="4.80" lengthAdjust="spacingAndGlyphs">0.0</text>
<line x1="271.90" y1="440.70" x2="273.20" y2="440.70" stroke="#222" stroke-width="0.6"/>
<text x="271.60" y="441.65" font-size="2.7" font-weight="bold" text-anchor="end" fill="#222" stroke="#222" stroke-width="0.081" textLength="4.80" lengthAdjust="spacingAndGlyphs">0.5</text>
<line x1="271.90" y1="429.90" x2="273.20" y2="429.90" stroke="#222" stroke-width="0.6"/>
<text x="271.60" y="430.85" font-size="2.7" font-weight="bold" text-anchor="end" fill="#222" stroke="#222" stroke-width="0.081" textLength="4.80" lengthAdjust="spacingAndGlyphs">1.0</text>
<line x1="271.90" y1="419.10" x2="273.20" y2="419.10" stroke="#222" stroke-width="0.6"/>
<text x="271.60" y="420.05" font-size="2.7" font-weight="bold" text-anchor="end" fill="#222" stroke="#222" stroke-width="0.081" textLength="4.80" lengthAdjust="spacingAndGlyphs">1.5</text>
<rect x="276.50" y="436.00" width="12.40" height="15.50" fill="#c4c4c4" stroke="#999" stroke-width="0.3"/>
<line x1="282.70" y1="433.30" x2="282.70" y2="438.70" stroke="#333" stroke-width="0.5"/>
<line x1="279.40" y1="433.30" x2="286.00" y2="433.30" stroke="#333" stroke-width="0.5"/>
<line x1="279.40" y1="438.70" x2="286.00" y2="438.70" stroke="#333" stroke-width="0.5"/>
<line x1="282.70" y1="451.50" x2="282.70" y2="452.90" stroke="#222" stroke-width="0.6"/>
<text x="283.00" y="456.70" font-size="3.3" font-weight="bold" text-anchor="end" fill="#222" stroke="#222" stroke-width="0.080" textLength="20.00" lengthAdjust="spacingAndGlyphs" transform="rotate(-31 283.00 456.70)">FMT_Vehicle</text>
<rect x="293.50" y="446.70" width="12.40" height="4.80" fill="#cc0a1e" stroke="#8a0010" stroke-width="0.3"/>
<line x1="299.70" y1="444.20" x2="299.70" y2="449.10" stroke="#111" stroke-width="0.5"/>
<line x1="296.40" y1="444.20" x2="303.00" y2="444.20" stroke="#111" stroke-width="0.5"/>
<line x1="296.40" y1="449.10" x2="303.00" y2="449.10" stroke="#111" stroke-width="0.5"/>
<line x1="299.70" y1="451.50" x2="299.70" y2="452.90" stroke="#222" stroke-width="0.6"/>
<text x="300.00" y="456.70" font-size="3.3" font-weight="bold" text-anchor="end" fill="#222" stroke="#222" stroke-width="0.080" textLength="17.00" lengthAdjust="spacingAndGlyphs" transform="rotate(-31 300.00 456.70)">FMT_ANIT</text>
<rect x="311.00" y="430.00" width="12.40" height="21.50" fill="#1b64b0" stroke="#0d3f80" stroke-width="0.3"/>
<line x1="317.20" y1="426.70" x2="317.20" y2="433.10" stroke="#111" stroke-width="0.5"/>
<line x1="313.90" y1="426.70" x2="320.50" y2="426.70" stroke="#111" stroke-width="0.5"/>
<line x1="313.90" y1="433.10" x2="320.50" y2="433.10" stroke="#111" stroke-width="0.5"/>
<line x1="317.20" y1="451.50" x2="317.20" y2="452.90" stroke="#222" stroke-width="0.6"/>
<text x="317.50" y="456.70" font-size="3.3" font-weight="bold" text-anchor="end" fill="#222" stroke="#222" stroke-width="0.080" textLength="18.00" lengthAdjust="spacingAndGlyphs" transform="rotate(-31 317.50 456.70)">FMT_YCHD</text>
<text x="299.70" y="441.20" font-size="4.6" font-weight="bold" text-anchor="middle" fill="#333" textLength="2.20" lengthAdjust="spacingAndGlyphs">*</text>
<text x="317.20" y="424.40" font-size="4.4" font-weight="bold" font-style="italic" text-anchor="middle" fill="#111" stroke="#111" stroke-width="0.132" textLength="6.80" lengthAdjust="spacingAndGlyphs">##</text>
<text x="274.10" y="415.60" font-size="4.3" font-weight="bold" fill="#111" stroke="#111" stroke-width="0.100" textLength="51.80" lengthAdjust="spacingAndGlyphs">g__Colidextribacter</text>
<text x="249.50" y="435.30" font-size="4.3" font-weight="bold" text-anchor="middle" fill="#222" stroke="#222" stroke-width="0.120" textLength="32.40" lengthAdjust="spacingAndGlyphs" transform="rotate(-90 249.50 435.30)">Relative expression</text>
<line x1="369.50" y1="416.68" x2="369.50" y2="450.85" stroke="#222" stroke-width="0.9"/>
<line x1="369.50" y1="450.40" x2="425.00" y2="450.40" stroke="#222" stroke-width="0.9"/>
<line x1="368.20" y1="450.40" x2="369.50" y2="450.40" stroke="#222" stroke-width="0.6"/>
<text x="367.90" y="451.35" font-size="2.7" font-weight="bold" text-anchor="end" fill="#222" stroke="#222" stroke-width="0.081" textLength="6.40" lengthAdjust="spacingAndGlyphs">0.00</text>
<line x1="368.20" y1="441.97" x2="369.50" y2="441.97" stroke="#222" stroke-width="0.6"/>
<text x="367.90" y="442.92" font-size="2.7" font-weight="bold" text-anchor="end" fill="#222" stroke="#222" stroke-width="0.081" textLength="6.40" lengthAdjust="spacingAndGlyphs">0.05</text>
<line x1="368.20" y1="433.54" x2="369.50" y2="433.54" stroke="#222" stroke-width="0.6"/>
<text x="367.90" y="434.49" font-size="2.7" font-weight="bold" text-anchor="end" fill="#222" stroke="#222" stroke-width="0.081" textLength="6.40" lengthAdjust="spacingAndGlyphs">0.10</text>
<line x1="368.20" y1="425.11" x2="369.50" y2="425.11" stroke="#222" stroke-width="0.6"/>
<text x="367.90" y="426.06" font-size="2.7" font-weight="bold" text-anchor="end" fill="#222" stroke="#222" stroke-width="0.081" textLength="6.40" lengthAdjust="spacingAndGlyphs">0.15</text>
<line x1="368.20" y1="416.68" x2="369.50" y2="416.68" stroke="#222" stroke-width="0.6"/>
<text x="367.90" y="417.63" font-size="2.7" font-weight="bold" text-anchor="end" fill="#222" stroke="#222" stroke-width="0.081" textLength="6.40" lengthAdjust="spacingAndGlyphs">0.20</text>
<rect x="372.30" y="426.90" width="12.70" height="23.50" fill="#c4c4c4" stroke="#999" stroke-width="0.3"/>
<line x1="378.65" y1="422.20" x2="378.65" y2="432.40" stroke="#333" stroke-width="0.5"/>
<line x1="375.35" y1="422.20" x2="381.95" y2="422.20" stroke="#333" stroke-width="0.5"/>
<line x1="375.35" y1="432.40" x2="381.95" y2="432.40" stroke="#333" stroke-width="0.5"/>
<line x1="378.65" y1="450.40" x2="378.65" y2="451.80" stroke="#222" stroke-width="0.6"/>
<text x="378.95" y="455.60" font-size="3.3" font-weight="bold" text-anchor="end" fill="#222" stroke="#222" stroke-width="0.080" textLength="20.00" lengthAdjust="spacingAndGlyphs" transform="rotate(-31 378.95 455.60)">FMT_Vehicle</text>
<rect x="390.10" y="447.30" width="12.70" height="3.10" fill="#cc0a1e" stroke="#8a0010" stroke-width="0.3"/>
<line x1="396.45" y1="446.40" x2="396.45" y2="448.20" stroke="#111" stroke-width="0.5"/>
<line x1="393.15" y1="446.40" x2="399.75" y2="446.40" stroke="#111" stroke-width="0.5"/>
<line x1="393.15" y1="448.20" x2="399.75" y2="448.20" stroke="#111" stroke-width="0.5"/>
<line x1="396.45" y1="450.40" x2="396.45" y2="451.80" stroke="#222" stroke-width="0.6"/>
<text x="396.75" y="455.60" font-size="3.3" font-weight="bold" text-anchor="end" fill="#222" stroke="#222" stroke-width="0.080" textLength="17.00" lengthAdjust="spacingAndGlyphs" transform="rotate(-31 396.75 455.60)">FMT_ANIT</text>
<rect x="408.60" y="431.80" width="12.70" height="18.60" fill="#1b64b0" stroke="#0d3f80" stroke-width="0.3"/>
<line x1="414.95" y1="427.30" x2="414.95" y2="436.90" stroke="#111" stroke-width="0.5"/>
<line x1="411.65" y1="427.30" x2="418.25" y2="427.30" stroke="#111" stroke-width="0.5"/>
<line x1="411.65" y1="436.90" x2="418.25" y2="436.90" stroke="#111" stroke-width="0.5"/>
<line x1="414.95" y1="450.40" x2="414.95" y2="451.80" stroke="#222" stroke-width="0.6"/>
<text x="415.25" y="455.60" font-size="3.3" font-weight="bold" text-anchor="end" fill="#222" stroke="#222" stroke-width="0.080" textLength="18.00" lengthAdjust="spacingAndGlyphs" transform="rotate(-31 415.25 455.60)">FMT_YCHD</text>
<text x="396.50" y="443.40" font-size="4.6" font-weight="bold" text-anchor="middle" fill="#333" textLength="4.40" lengthAdjust="spacingAndGlyphs">**</text>
<text x="415.00" y="424.60" font-size="4.4" font-weight="bold" font-style="italic" text-anchor="middle" fill="#111" stroke="#111" stroke-width="0.132" textLength="6.80" lengthAdjust="spacingAndGlyphs">##</text>
<text x="367.70" y="412.40" font-size="4.3" font-weight="bold" font-style="italic" fill="#111" stroke="#111" stroke-width="0.100" textLength="58.20" lengthAdjust="spacingAndGlyphs">g__NK4A214_group</text>
<text x="349.50" y="433.54" font-size="4.3" font-weight="bold" text-anchor="middle" fill="#222" stroke="#222" stroke-width="0.120" textLength="34.50" lengthAdjust="spacingAndGlyphs" transform="rotate(-90 349.50 433.54)">Relative expression</text>
</svg>
</body></html>
